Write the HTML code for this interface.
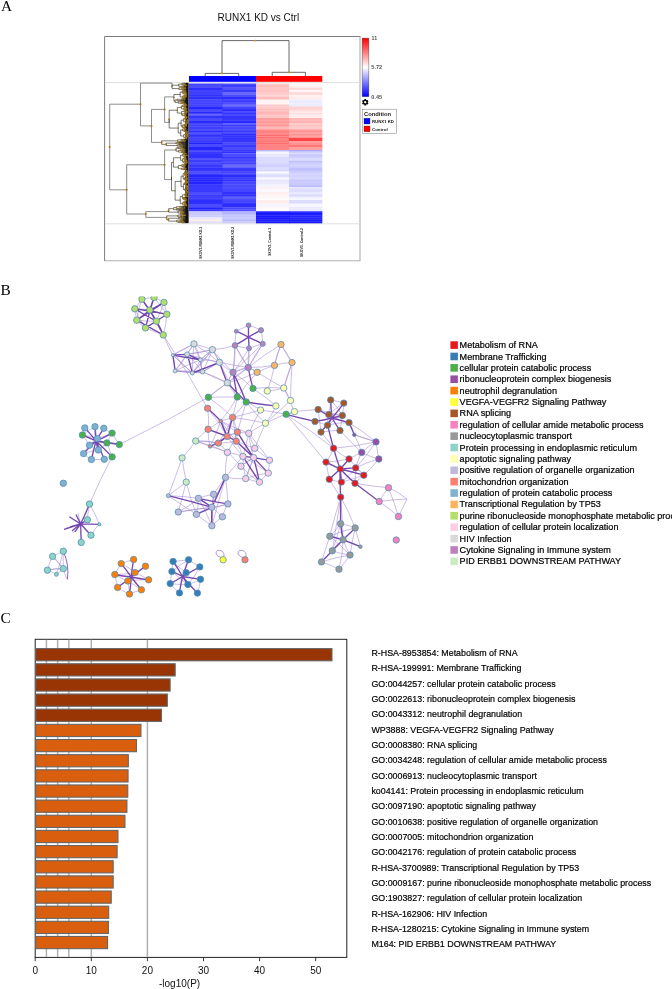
<!DOCTYPE html>
<html><head><meta charset="utf-8"><title>RUNX1 KD vs Ctrl</title>
<style>html,body{margin:0;padding:0;background:#fff;width:672px;height:989px;overflow:hidden}svg{display:block}</style>
</head><body>
<svg width="672" height="989" viewBox="0 0 672 989"><text x="0.9" y="10.6" font-family="Liberation Serif, Times New Roman, serif" font-size="15.3">A</text>
<text x="0.6" y="294.6" font-family="Liberation Serif, Times New Roman, serif" font-size="15.3">B</text>
<text x="0.6" y="622.9" font-family="Liberation Serif, Times New Roman, serif" font-size="15.3">C</text>
<text x="217.5" y="21" font-family="Liberation Sans, Arial, sans-serif" font-size="10" fill="#111">RUNX1 KD vs Ctrl</text>
<path d="M104.6,261 V36.5 H360.5" fill="none" stroke="#7d7d7d" stroke-width="1"/>
<path d="M104.6,260.8 H360 V36.5" fill="none" stroke="#b0b0b0" stroke-width="1.1"/>
<line x1="105" y1="82.5" x2="360" y2="82.5" stroke="#d8d8d8" stroke-width="0.8"/>
<line x1="105" y1="223.8" x2="360" y2="223.8" stroke="#d8d8d8" stroke-width="0.8"/>
<path d="M222,73.4 V40.6 H289 V72.3 M205.2,76 V73.4 H238.7 V76 M272.2,76 V72.3 H305.4 V76" fill="none" stroke="#3a3a3a" stroke-width="0.75"/>
<circle cx="255.5" cy="40.6" r="0.9" fill="#d49a00"/>
<circle cx="222" cy="73.4" r="0.9" fill="#d49a00"/>
<circle cx="289" cy="72.3" r="0.9" fill="#d49a00"/>
<rect x="189" y="76" width="67" height="5.8" fill="#0000ff"/>
<rect x="256" y="76" width="66.3" height="5.8" fill="#ff0000"/>
<rect x="189" y="83.50" width="34.00" height="1.80" fill="#4242ff"/>
<rect x="189" y="85.00" width="34.00" height="2.80" fill="#4b4bff"/>
<rect x="189" y="87.50" width="34.00" height="2.80" fill="#2e2eff"/>
<rect x="189" y="90.00" width="34.00" height="2.30" fill="#4242ff"/>
<rect x="189" y="92.00" width="34.00" height="3.30" fill="#4040ff"/>
<rect x="189" y="95.00" width="34.00" height="1.80" fill="#3232ff"/>
<rect x="189" y="96.50" width="34.00" height="3.30" fill="#3131ff"/>
<rect x="189" y="99.50" width="34.00" height="1.80" fill="#4646ff"/>
<rect x="189" y="101.00" width="34.00" height="1.80" fill="#4646ff"/>
<rect x="189" y="102.50" width="34.00" height="1.30" fill="#2f2fff"/>
<rect x="189" y="103.50" width="34.00" height="1.30" fill="#3030ff"/>
<rect x="189" y="104.50" width="34.00" height="2.30" fill="#4444ff"/>
<rect x="189" y="106.50" width="34.00" height="2.80" fill="#2626ff"/>
<rect x="189" y="109.00" width="34.00" height="1.30" fill="#4444ff"/>
<rect x="189" y="110.00" width="34.00" height="1.80" fill="#4a4aff"/>
<rect x="189" y="111.50" width="34.00" height="1.80" fill="#2929ff"/>
<rect x="189" y="113.00" width="34.00" height="1.80" fill="#4646ff"/>
<rect x="189" y="114.50" width="34.00" height="1.30" fill="#6161ff"/>
<rect x="189" y="115.50" width="34.00" height="2.80" fill="#3333ff"/>
<rect x="189" y="118.00" width="34.00" height="2.80" fill="#4949ff"/>
<rect x="189" y="120.50" width="34.00" height="3.30" fill="#2b2bff"/>
<rect x="189" y="123.50" width="34.00" height="1.30" fill="#3939ff"/>
<rect x="189" y="124.50" width="34.00" height="2.30" fill="#4141ff"/>
<rect x="189" y="126.50" width="34.00" height="3.30" fill="#3f3fff"/>
<rect x="189" y="129.50" width="34.00" height="1.30" fill="#3d3dff"/>
<rect x="189" y="130.50" width="34.00" height="2.30" fill="#2e2eff"/>
<rect x="189" y="132.50" width="34.00" height="1.30" fill="#4040ff"/>
<rect x="189" y="133.50" width="34.00" height="1.80" fill="#4444ff"/>
<rect x="189" y="135.00" width="34.00" height="1.30" fill="#3333ff"/>
<rect x="189" y="136.00" width="34.00" height="1.30" fill="#3a3aff"/>
<rect x="189" y="137.00" width="34.00" height="1.30" fill="#4b4bff"/>
<rect x="189" y="138.00" width="34.00" height="3.30" fill="#4242ff"/>
<rect x="189" y="141.00" width="34.00" height="1.80" fill="#3939ff"/>
<rect x="189" y="142.50" width="34.00" height="2.30" fill="#2424ff"/>
<rect x="189" y="144.50" width="34.00" height="2.80" fill="#4949ff"/>
<rect x="189" y="147.00" width="34.00" height="3.30" fill="#2626ff"/>
<rect x="189" y="150.00" width="34.00" height="1.80" fill="#4545ff"/>
<rect x="189" y="151.50" width="34.00" height="1.80" fill="#3b3bff"/>
<rect x="189" y="153.00" width="34.00" height="1.30" fill="#3939ff"/>
<rect x="189" y="154.00" width="34.00" height="3.30" fill="#3131ff"/>
<rect x="189" y="157.00" width="34.00" height="1.80" fill="#3030ff"/>
<rect x="189" y="158.50" width="34.00" height="1.30" fill="#4c4cff"/>
<rect x="189" y="159.50" width="34.00" height="1.80" fill="#3d3dff"/>
<rect x="189" y="161.00" width="34.00" height="1.80" fill="#3c3cff"/>
<rect x="189" y="162.50" width="34.00" height="1.30" fill="#4444ff"/>
<rect x="189" y="163.50" width="34.00" height="1.30" fill="#2e2eff"/>
<rect x="189" y="164.50" width="34.00" height="3.30" fill="#3838ff"/>
<rect x="189" y="167.50" width="34.00" height="2.80" fill="#3232ff"/>
<rect x="189" y="170.00" width="34.00" height="1.80" fill="#3939ff"/>
<rect x="189" y="171.50" width="34.00" height="2.30" fill="#4b4bff"/>
<rect x="189" y="173.50" width="34.00" height="1.80" fill="#3b3bff"/>
<rect x="189" y="175.00" width="34.00" height="2.80" fill="#2525ff"/>
<rect x="189" y="177.50" width="34.00" height="2.30" fill="#2929ff"/>
<rect x="189" y="179.50" width="34.00" height="2.30" fill="#2424ff"/>
<rect x="189" y="181.50" width="34.00" height="3.30" fill="#2424ff"/>
<rect x="189" y="184.50" width="34.00" height="2.80" fill="#3838ff"/>
<rect x="189" y="187.00" width="34.00" height="2.30" fill="#3939ff"/>
<rect x="189" y="189.00" width="34.00" height="3.30" fill="#3a3aff"/>
<rect x="189" y="192.00" width="34.00" height="2.80" fill="#4b4bff"/>
<rect x="189" y="194.50" width="34.00" height="2.30" fill="#3838ff"/>
<rect x="189" y="196.50" width="34.00" height="1.30" fill="#2727ff"/>
<rect x="189" y="197.50" width="34.00" height="1.30" fill="#2f2fff"/>
<rect x="189" y="198.50" width="34.00" height="1.80" fill="#3939ff"/>
<rect x="189" y="200.00" width="34.00" height="3.30" fill="#2e2eff"/>
<rect x="189" y="203.00" width="34.00" height="1.30" fill="#3333ff"/>
<rect x="189" y="204.00" width="34.00" height="3.30" fill="#4b4bff"/>
<rect x="189" y="207.00" width="34.00" height="1.30" fill="#4040ff"/>
<rect x="189" y="208.00" width="34.00" height="1.80" fill="#2323ff"/>
<rect x="189" y="209.50" width="34.00" height="2.10" fill="#3a3aff"/>
<rect x="189" y="211.30" width="34.00" height="1.30" fill="#ceceff"/>
<rect x="189" y="212.30" width="34.00" height="1.80" fill="#c5c5ff"/>
<rect x="189" y="213.80" width="34.00" height="1.80" fill="#cacaff"/>
<rect x="189" y="215.30" width="34.00" height="2.30" fill="#ccccff"/>
<rect x="189" y="217.30" width="34.00" height="2.30" fill="#eaeaff"/>
<rect x="189" y="219.30" width="34.00" height="2.30" fill="#ffeaea"/>
<rect x="189" y="221.30" width="34.00" height="2.00" fill="#e1e1ff"/>
<rect x="222.4" y="83.50" width="34.20" height="1.80" fill="#4a4aff"/>
<rect x="222.4" y="85.00" width="34.20" height="2.80" fill="#3c3cff"/>
<rect x="222.4" y="87.50" width="34.20" height="2.80" fill="#5151ff"/>
<rect x="222.4" y="90.00" width="34.20" height="2.30" fill="#3a3aff"/>
<rect x="222.4" y="92.00" width="34.20" height="3.30" fill="#6969ff"/>
<rect x="222.4" y="95.00" width="34.20" height="1.80" fill="#4b4bff"/>
<rect x="222.4" y="96.50" width="34.20" height="3.30" fill="#2c2cff"/>
<rect x="222.4" y="99.50" width="34.20" height="1.80" fill="#4242ff"/>
<rect x="222.4" y="101.00" width="34.20" height="1.80" fill="#3939ff"/>
<rect x="222.4" y="102.50" width="34.20" height="1.30" fill="#4646ff"/>
<rect x="222.4" y="103.50" width="34.20" height="1.30" fill="#3232ff"/>
<rect x="222.4" y="104.50" width="34.20" height="2.30" fill="#6d6dff"/>
<rect x="222.4" y="106.50" width="34.20" height="2.80" fill="#4141ff"/>
<rect x="222.4" y="109.00" width="34.20" height="1.30" fill="#3333ff"/>
<rect x="222.4" y="110.00" width="34.20" height="1.80" fill="#2b2bff"/>
<rect x="222.4" y="111.50" width="34.20" height="1.80" fill="#4848ff"/>
<rect x="222.4" y="113.00" width="34.20" height="1.80" fill="#3333ff"/>
<rect x="222.4" y="114.50" width="34.20" height="1.30" fill="#3b3bff"/>
<rect x="222.4" y="115.50" width="34.20" height="2.80" fill="#3232ff"/>
<rect x="222.4" y="118.00" width="34.20" height="2.80" fill="#3636ff"/>
<rect x="222.4" y="120.50" width="34.20" height="3.30" fill="#2929ff"/>
<rect x="222.4" y="123.50" width="34.20" height="1.30" fill="#6f6fff"/>
<rect x="222.4" y="124.50" width="34.20" height="2.30" fill="#3939ff"/>
<rect x="222.4" y="126.50" width="34.20" height="3.30" fill="#4848ff"/>
<rect x="222.4" y="129.50" width="34.20" height="1.30" fill="#3838ff"/>
<rect x="222.4" y="130.50" width="34.20" height="2.30" fill="#3838ff"/>
<rect x="222.4" y="132.50" width="34.20" height="1.30" fill="#4242ff"/>
<rect x="222.4" y="133.50" width="34.20" height="1.80" fill="#2d2dff"/>
<rect x="222.4" y="135.00" width="34.20" height="1.30" fill="#4242ff"/>
<rect x="222.4" y="136.00" width="34.20" height="1.30" fill="#3535ff"/>
<rect x="222.4" y="137.00" width="34.20" height="1.30" fill="#3c3cff"/>
<rect x="222.4" y="138.00" width="34.20" height="3.30" fill="#3535ff"/>
<rect x="222.4" y="141.00" width="34.20" height="1.80" fill="#3636ff"/>
<rect x="222.4" y="142.50" width="34.20" height="2.30" fill="#4848ff"/>
<rect x="222.4" y="144.50" width="34.20" height="2.80" fill="#3939ff"/>
<rect x="222.4" y="147.00" width="34.20" height="3.30" fill="#4b4bff"/>
<rect x="222.4" y="150.00" width="34.20" height="1.80" fill="#3a3aff"/>
<rect x="222.4" y="151.50" width="34.20" height="1.80" fill="#2d2dff"/>
<rect x="222.4" y="153.00" width="34.20" height="1.30" fill="#6565ff"/>
<rect x="222.4" y="154.00" width="34.20" height="3.30" fill="#4b4bff"/>
<rect x="222.4" y="157.00" width="34.20" height="1.80" fill="#3636ff"/>
<rect x="222.4" y="158.50" width="34.20" height="1.30" fill="#3030ff"/>
<rect x="222.4" y="159.50" width="34.20" height="1.80" fill="#4343ff"/>
<rect x="222.4" y="161.00" width="34.20" height="1.80" fill="#5050ff"/>
<rect x="222.4" y="162.50" width="34.20" height="1.30" fill="#2a2aff"/>
<rect x="222.4" y="163.50" width="34.20" height="1.30" fill="#3838ff"/>
<rect x="222.4" y="164.50" width="34.20" height="3.30" fill="#6969ff"/>
<rect x="222.4" y="167.50" width="34.20" height="2.80" fill="#3838ff"/>
<rect x="222.4" y="170.00" width="34.20" height="1.80" fill="#3535ff"/>
<rect x="222.4" y="171.50" width="34.20" height="2.30" fill="#4242ff"/>
<rect x="222.4" y="173.50" width="34.20" height="1.80" fill="#4848ff"/>
<rect x="222.4" y="175.00" width="34.20" height="2.80" fill="#2c2cff"/>
<rect x="222.4" y="177.50" width="34.20" height="2.30" fill="#3a3aff"/>
<rect x="222.4" y="179.50" width="34.20" height="2.30" fill="#3333ff"/>
<rect x="222.4" y="181.50" width="34.20" height="3.30" fill="#4545ff"/>
<rect x="222.4" y="184.50" width="34.20" height="2.80" fill="#4949ff"/>
<rect x="222.4" y="187.00" width="34.20" height="2.30" fill="#4f4fff"/>
<rect x="222.4" y="189.00" width="34.20" height="3.30" fill="#4545ff"/>
<rect x="222.4" y="192.00" width="34.20" height="2.80" fill="#3131ff"/>
<rect x="222.4" y="194.50" width="34.20" height="2.30" fill="#2e2eff"/>
<rect x="222.4" y="196.50" width="34.20" height="1.30" fill="#4c4cff"/>
<rect x="222.4" y="197.50" width="34.20" height="1.30" fill="#4e4eff"/>
<rect x="222.4" y="198.50" width="34.20" height="1.80" fill="#4c4cff"/>
<rect x="222.4" y="200.00" width="34.20" height="3.30" fill="#4747ff"/>
<rect x="222.4" y="203.00" width="34.20" height="1.30" fill="#3737ff"/>
<rect x="222.4" y="204.00" width="34.20" height="3.30" fill="#2c2cff"/>
<rect x="222.4" y="207.00" width="34.20" height="1.30" fill="#5c5cff"/>
<rect x="222.4" y="208.00" width="34.20" height="1.80" fill="#4848ff"/>
<rect x="222.4" y="209.50" width="34.20" height="2.10" fill="#5050ff"/>
<rect x="222.4" y="211.30" width="34.20" height="1.30" fill="#b3b3ff"/>
<rect x="222.4" y="212.30" width="34.20" height="1.80" fill="#acacff"/>
<rect x="222.4" y="213.80" width="34.20" height="1.80" fill="#c3c3ff"/>
<rect x="222.4" y="215.30" width="34.20" height="2.30" fill="#c4c4ff"/>
<rect x="222.4" y="217.30" width="34.20" height="2.30" fill="#cacaff"/>
<rect x="222.4" y="219.30" width="34.20" height="2.30" fill="#b7b7ff"/>
<rect x="222.4" y="221.30" width="34.20" height="2.00" fill="#d0d0ff"/>
<rect x="256" y="83.50" width="33.60" height="1.80" fill="#ffcbcb"/>
<rect x="256" y="85.00" width="33.60" height="2.80" fill="#ffbcbc"/>
<rect x="256" y="87.50" width="33.60" height="2.80" fill="#ffc4c4"/>
<rect x="256" y="90.00" width="33.60" height="2.30" fill="#ffc2c2"/>
<rect x="256" y="92.00" width="33.60" height="3.30" fill="#ffcccc"/>
<rect x="256" y="95.00" width="33.60" height="1.80" fill="#ffd7d7"/>
<rect x="256" y="96.50" width="33.60" height="3.30" fill="#ffbdbd"/>
<rect x="256" y="99.50" width="33.60" height="1.80" fill="#ffeeee"/>
<rect x="256" y="101.00" width="33.60" height="1.80" fill="#fff6f6"/>
<rect x="256" y="102.50" width="33.60" height="1.30" fill="#ffeded"/>
<rect x="256" y="103.50" width="33.60" height="1.30" fill="#fffafa"/>
<rect x="256" y="104.50" width="33.60" height="2.30" fill="#ffc7c7"/>
<rect x="256" y="106.50" width="33.60" height="2.80" fill="#ffcaca"/>
<rect x="256" y="109.00" width="33.60" height="1.30" fill="#ffbfbf"/>
<rect x="256" y="110.00" width="33.60" height="1.80" fill="#ffc2c2"/>
<rect x="256" y="111.50" width="33.60" height="1.80" fill="#ffb6b6"/>
<rect x="256" y="113.00" width="33.60" height="1.80" fill="#ffb4b4"/>
<rect x="256" y="114.50" width="33.60" height="1.30" fill="#ffbebe"/>
<rect x="256" y="115.50" width="33.60" height="2.80" fill="#ffc5c5"/>
<rect x="256" y="118.00" width="33.60" height="2.80" fill="#ff9d9d"/>
<rect x="256" y="120.50" width="33.60" height="3.30" fill="#ff9b9b"/>
<rect x="256" y="123.50" width="33.60" height="1.30" fill="#ff9c9c"/>
<rect x="256" y="124.50" width="33.60" height="2.30" fill="#ff9797"/>
<rect x="256" y="126.50" width="33.60" height="3.30" fill="#ffb6b6"/>
<rect x="256" y="129.50" width="33.60" height="1.30" fill="#ff7a7a"/>
<rect x="256" y="130.50" width="33.60" height="2.30" fill="#ff8080"/>
<rect x="256" y="132.50" width="33.60" height="1.30" fill="#ff6e6e"/>
<rect x="256" y="133.50" width="33.60" height="1.80" fill="#ff8c8c"/>
<rect x="256" y="135.00" width="33.60" height="1.30" fill="#ff6b6b"/>
<rect x="256" y="136.00" width="33.60" height="1.30" fill="#ff8c8c"/>
<rect x="256" y="137.00" width="33.60" height="1.30" fill="#ff6f6f"/>
<rect x="256" y="138.00" width="33.60" height="3.30" fill="#ff8383"/>
<rect x="256" y="141.00" width="33.60" height="1.80" fill="#ff7a7a"/>
<rect x="256" y="142.50" width="33.60" height="2.30" fill="#ff7070"/>
<rect x="256" y="144.50" width="33.60" height="2.80" fill="#ff8181"/>
<rect x="256" y="147.00" width="33.60" height="3.30" fill="#ff8484"/>
<rect x="256" y="150.00" width="33.60" height="1.80" fill="#b9b9ff"/>
<rect x="256" y="151.50" width="33.60" height="1.80" fill="#f4f4ff"/>
<rect x="256" y="153.00" width="33.60" height="1.30" fill="#f4f4ff"/>
<rect x="256" y="154.00" width="33.60" height="3.30" fill="#e7e7ff"/>
<rect x="256" y="157.00" width="33.60" height="1.80" fill="#dbdbff"/>
<rect x="256" y="158.50" width="33.60" height="1.30" fill="#d3d3ff"/>
<rect x="256" y="159.50" width="33.60" height="1.80" fill="#dbdbff"/>
<rect x="256" y="161.00" width="33.60" height="1.80" fill="#dadaff"/>
<rect x="256" y="162.50" width="33.60" height="1.30" fill="#d8d8ff"/>
<rect x="256" y="163.50" width="33.60" height="1.30" fill="#cfcfff"/>
<rect x="256" y="164.50" width="33.60" height="3.30" fill="#d1d1ff"/>
<rect x="256" y="167.50" width="33.60" height="2.80" fill="#dcdcff"/>
<rect x="256" y="170.00" width="33.60" height="1.80" fill="#d6d6ff"/>
<rect x="256" y="171.50" width="33.60" height="2.30" fill="#fbfbff"/>
<rect x="256" y="173.50" width="33.60" height="1.80" fill="#e3e3ff"/>
<rect x="256" y="175.00" width="33.60" height="2.80" fill="#dedeff"/>
<rect x="256" y="177.50" width="33.60" height="2.30" fill="#fafaff"/>
<rect x="256" y="179.50" width="33.60" height="2.30" fill="#e6e6ff"/>
<rect x="256" y="181.50" width="33.60" height="3.30" fill="#eaeaff"/>
<rect x="256" y="184.50" width="33.60" height="2.80" fill="#f4f4ff"/>
<rect x="256" y="187.00" width="33.60" height="2.30" fill="#fff1f1"/>
<rect x="256" y="189.00" width="33.60" height="3.30" fill="#f9f9ff"/>
<rect x="256" y="192.00" width="33.60" height="2.80" fill="#ffefef"/>
<rect x="256" y="194.50" width="33.60" height="2.30" fill="#fff4f4"/>
<rect x="256" y="196.50" width="33.60" height="1.30" fill="#fff7f7"/>
<rect x="256" y="197.50" width="33.60" height="1.30" fill="#fff5f5"/>
<rect x="256" y="198.50" width="33.60" height="1.80" fill="#fefeff"/>
<rect x="256" y="200.00" width="33.60" height="3.30" fill="#ffecec"/>
<rect x="256" y="203.00" width="33.60" height="1.30" fill="#fff1f1"/>
<rect x="256" y="204.00" width="33.60" height="3.30" fill="#f5f5ff"/>
<rect x="256" y="207.00" width="33.60" height="1.30" fill="#fff6f6"/>
<rect x="256" y="208.00" width="33.60" height="1.80" fill="#fff8f8"/>
<rect x="256" y="209.50" width="33.60" height="2.10" fill="#fffcfc"/>
<rect x="256" y="211.30" width="33.60" height="1.30" fill="#1515ff"/>
<rect x="256" y="212.30" width="33.60" height="1.80" fill="#0e0eff"/>
<rect x="256" y="213.80" width="33.60" height="1.80" fill="#1e1eff"/>
<rect x="256" y="215.30" width="33.60" height="2.30" fill="#1515ff"/>
<rect x="256" y="217.30" width="33.60" height="2.30" fill="#1313ff"/>
<rect x="256" y="219.30" width="33.60" height="2.30" fill="#1c1cff"/>
<rect x="256" y="221.30" width="33.60" height="2.00" fill="#1a1aff"/>
<rect x="289" y="83.50" width="33.30" height="1.80" fill="#fff4f4"/>
<rect x="289" y="85.00" width="33.30" height="2.80" fill="#fff4f4"/>
<rect x="289" y="87.50" width="33.30" height="2.80" fill="#ffd8d8"/>
<rect x="289" y="90.00" width="33.30" height="2.30" fill="#fff7f7"/>
<rect x="289" y="92.00" width="33.30" height="3.30" fill="#ffdada"/>
<rect x="289" y="95.00" width="33.30" height="1.80" fill="#fff4f4"/>
<rect x="289" y="96.50" width="33.30" height="3.30" fill="#ffecec"/>
<rect x="289" y="99.50" width="33.30" height="1.80" fill="#efefff"/>
<rect x="289" y="101.00" width="33.30" height="1.80" fill="#e9e9ff"/>
<rect x="289" y="102.50" width="33.30" height="1.30" fill="#eeeeff"/>
<rect x="289" y="103.50" width="33.30" height="1.30" fill="#eeeeff"/>
<rect x="289" y="104.50" width="33.30" height="2.30" fill="#ececff"/>
<rect x="289" y="106.50" width="33.30" height="2.80" fill="#ffd1d1"/>
<rect x="289" y="109.00" width="33.30" height="1.30" fill="#ffd6d6"/>
<rect x="289" y="110.00" width="33.30" height="1.80" fill="#ffdddd"/>
<rect x="289" y="111.50" width="33.30" height="1.80" fill="#ffeaea"/>
<rect x="289" y="113.00" width="33.30" height="1.80" fill="#ffe0e0"/>
<rect x="289" y="114.50" width="33.30" height="1.30" fill="#ffe8e8"/>
<rect x="289" y="115.50" width="33.30" height="2.80" fill="#ffecec"/>
<rect x="289" y="118.00" width="33.30" height="2.80" fill="#ffb7b7"/>
<rect x="289" y="120.50" width="33.30" height="3.30" fill="#ffb4b4"/>
<rect x="289" y="123.50" width="33.30" height="1.30" fill="#ffcfcf"/>
<rect x="289" y="124.50" width="33.30" height="2.30" fill="#ffc0c0"/>
<rect x="289" y="126.50" width="33.30" height="3.30" fill="#ffcaca"/>
<rect x="289" y="129.50" width="33.30" height="1.30" fill="#ff8f8f"/>
<rect x="289" y="130.50" width="33.30" height="2.30" fill="#ff9393"/>
<rect x="289" y="132.50" width="33.30" height="1.30" fill="#ffa1a1"/>
<rect x="289" y="133.50" width="33.30" height="1.80" fill="#ff9292"/>
<rect x="289" y="135.00" width="33.30" height="1.30" fill="#ffa1a1"/>
<rect x="289" y="136.00" width="33.30" height="1.30" fill="#ffa4a4"/>
<rect x="289" y="137.00" width="33.30" height="1.30" fill="#ff9393"/>
<rect x="289" y="138.00" width="33.30" height="3.30" fill="#ff4242"/>
<rect x="289" y="141.00" width="33.30" height="1.80" fill="#ff9c9c"/>
<rect x="289" y="142.50" width="33.30" height="2.30" fill="#ff9191"/>
<rect x="289" y="144.50" width="33.30" height="2.80" fill="#ff7878"/>
<rect x="289" y="147.00" width="33.30" height="3.30" fill="#ffa0a0"/>
<rect x="289" y="150.00" width="33.30" height="1.80" fill="#a9a9ff"/>
<rect x="289" y="151.50" width="33.30" height="1.80" fill="#cfcfff"/>
<rect x="289" y="153.00" width="33.30" height="1.30" fill="#dfdfff"/>
<rect x="289" y="154.00" width="33.30" height="3.30" fill="#cbcbff"/>
<rect x="289" y="157.00" width="33.30" height="1.80" fill="#d1d1ff"/>
<rect x="289" y="158.50" width="33.30" height="1.30" fill="#d9d9ff"/>
<rect x="289" y="159.50" width="33.30" height="1.80" fill="#d7d7ff"/>
<rect x="289" y="161.00" width="33.30" height="1.80" fill="#bfbfff"/>
<rect x="289" y="162.50" width="33.30" height="1.30" fill="#ccccff"/>
<rect x="289" y="163.50" width="33.30" height="1.30" fill="#c6c6ff"/>
<rect x="289" y="164.50" width="33.30" height="3.30" fill="#d3d3ff"/>
<rect x="289" y="167.50" width="33.30" height="2.80" fill="#c0c0ff"/>
<rect x="289" y="170.00" width="33.30" height="1.80" fill="#c2c2ff"/>
<rect x="289" y="171.50" width="33.30" height="2.30" fill="#ccccff"/>
<rect x="289" y="173.50" width="33.30" height="1.80" fill="#d6d6ff"/>
<rect x="289" y="175.00" width="33.30" height="2.80" fill="#d3d3ff"/>
<rect x="289" y="177.50" width="33.30" height="2.30" fill="#d6d6ff"/>
<rect x="289" y="179.50" width="33.30" height="2.30" fill="#c6c6ff"/>
<rect x="289" y="181.50" width="33.30" height="3.30" fill="#cacaff"/>
<rect x="289" y="184.50" width="33.30" height="2.80" fill="#c0c0ff"/>
<rect x="289" y="187.00" width="33.30" height="2.30" fill="#e4e4ff"/>
<rect x="289" y="189.00" width="33.30" height="3.30" fill="#ddddff"/>
<rect x="289" y="192.00" width="33.30" height="2.80" fill="#e9e9ff"/>
<rect x="289" y="194.50" width="33.30" height="2.30" fill="#d9d9ff"/>
<rect x="289" y="196.50" width="33.30" height="1.30" fill="#e8e8ff"/>
<rect x="289" y="197.50" width="33.30" height="1.30" fill="#f2f2ff"/>
<rect x="289" y="198.50" width="33.30" height="1.80" fill="#f7f7ff"/>
<rect x="289" y="200.00" width="33.30" height="3.30" fill="#dcdcff"/>
<rect x="289" y="203.00" width="33.30" height="1.30" fill="#eaeaff"/>
<rect x="289" y="204.00" width="33.30" height="3.30" fill="#f6f6ff"/>
<rect x="289" y="207.00" width="33.30" height="1.30" fill="#eaeaff"/>
<rect x="289" y="208.00" width="33.30" height="1.80" fill="#ececff"/>
<rect x="289" y="209.50" width="33.30" height="2.10" fill="#e8e8ff"/>
<rect x="289" y="211.30" width="33.30" height="1.30" fill="#2121ff"/>
<rect x="289" y="212.30" width="33.30" height="1.80" fill="#1313ff"/>
<rect x="289" y="213.80" width="33.30" height="1.80" fill="#2020ff"/>
<rect x="289" y="215.30" width="33.30" height="2.30" fill="#2222ff"/>
<rect x="289" y="217.30" width="33.30" height="2.30" fill="#2222ff"/>
<rect x="289" y="219.30" width="33.30" height="2.30" fill="#1717ff"/>
<rect x="289" y="221.30" width="33.30" height="2.00" fill="#1a1aff"/>
<defs><linearGradient id="cb" x1="0" y1="0" x2="0" y2="1"><stop offset="0" stop-color="#ff0000"/><stop offset="0.5" stop-color="#ffffff"/><stop offset="1" stop-color="#0000ff"/></linearGradient></defs>
<rect x="362.2" y="38.2" width="6.6" height="58.4" fill="url(#cb)" stroke="#000" stroke-opacity="0.45" stroke-width="0.7"/>
<text x="371.6" y="39.9" font-family="Liberation Sans, Arial, sans-serif" font-size="5.3" font-weight="bold" fill="#555">11</text>
<text x="371.3" y="68.9" font-family="Liberation Sans, Arial, sans-serif" font-size="5.3" font-weight="bold" fill="#555" textLength="10.8" lengthAdjust="spacingAndGlyphs">5.72</text>
<text x="371.3" y="98.7" font-family="Liberation Sans, Arial, sans-serif" font-size="5.3" font-weight="bold" fill="#555" textLength="10.8" lengthAdjust="spacingAndGlyphs">0.45</text>
<g fill="#000"><rect x="364.40" y="99.00" width="1.7" height="1.8" transform="rotate(0 365.25 102.25)"/><rect x="364.40" y="99.00" width="1.7" height="1.8" transform="rotate(60 365.25 102.25)"/><rect x="364.40" y="99.00" width="1.7" height="1.8" transform="rotate(120 365.25 102.25)"/><rect x="364.40" y="99.00" width="1.7" height="1.8" transform="rotate(180 365.25 102.25)"/><rect x="364.40" y="99.00" width="1.7" height="1.8" transform="rotate(240 365.25 102.25)"/><rect x="364.40" y="99.00" width="1.7" height="1.8" transform="rotate(300 365.25 102.25)"/></g>
<circle cx="365.25" cy="102.25" r="1.85" fill="none" stroke="#000" stroke-width="1.3"/>
<rect x="362.3" y="109.2" width="34.4" height="24.4" fill="#fff" stroke="#777" stroke-width="0.5"/>
<text x="364" y="115.9" font-family="Liberation Sans, Arial, sans-serif" font-size="5.8" font-weight="bold" fill="#222">Condition</text>
<rect x="364" y="118.2" width="6" height="5.8" fill="#0000ff" stroke="#333" stroke-width="0.3"/>
<rect x="364" y="126" width="6" height="5.8" fill="#ff0000" stroke="#333" stroke-width="0.3"/>
<text x="372" y="122.9" font-family="Liberation Sans, Arial, sans-serif" font-size="4.3" font-weight="bold" fill="#222">RUNX1 KD</text>
<text x="372" y="130.7" font-family="Liberation Sans, Arial, sans-serif" font-size="4.4" font-weight="bold" fill="#222">Control</text>
<text x="201.9" y="258.8" font-family="Liberation Sans, Arial, sans-serif" font-size="4.1" font-weight="bold" fill="#222" textLength="32" lengthAdjust="spacingAndGlyphs" transform="rotate(-90 201.9 258.8)">SKOV3-RUNX1 KD-1</text>
<text x="234.0" y="258.8" font-family="Liberation Sans, Arial, sans-serif" font-size="4.1" font-weight="bold" fill="#222" textLength="32" lengthAdjust="spacingAndGlyphs" transform="rotate(-90 234.0 258.8)">SKOV3-RUNX1 KD-2</text>
<text x="271.1" y="255.8" font-family="Liberation Sans, Arial, sans-serif" font-size="4.1" font-weight="bold" fill="#222" textLength="27.8" lengthAdjust="spacingAndGlyphs" transform="rotate(-90 271.1 255.8)">SKOV3- Control-1</text>
<text x="303.4" y="257" font-family="Liberation Sans, Arial, sans-serif" font-size="4.1" font-weight="bold" fill="#222" textLength="29" lengthAdjust="spacingAndGlyphs" transform="rotate(-90 303.4 257)">SKOV3- Control-2</text>
<path d="M164.60,96.90L164.60,122.40M164.60,96.90L173.90,96.90M164.60,122.40L169.20,122.40M151.50,109.40L151.50,142.40M151.50,109.40L164.60,109.40M151.50,142.40L161.60,142.40M140.50,83.10L140.50,125.90M140.50,83.10L172.00,83.10M140.50,125.90L151.50,125.90M164.60,150.00L164.60,179.60M164.60,150.00L176.00,150.00M164.60,179.60L171.50,179.60M145.80,211.60L145.80,217.40M145.80,211.60L168.60,211.60M145.80,217.40L166.60,217.40M126.70,164.80L126.70,214.00M126.70,164.80L164.60,164.80M126.70,214.00L145.80,214.00M109.70,104.20L109.70,189.80M109.70,104.20L140.50,104.20M109.70,189.80L126.70,189.80" fill="none" stroke="#7a7a7a" stroke-width="0.85"/>
<path d="M185.26,83.23L188.30,83.23M184.19,83.63L188.30,83.63M183.45,83.23L185.26,83.23M183.45,83.63L184.19,83.63M183.45,83.23L183.45,83.63M185.47,84.04L188.30,84.04M185.65,84.48L188.30,84.48M185.07,84.04L185.47,84.04M185.07,84.48L185.65,84.48M185.07,84.04L185.07,84.48M186.49,84.87L188.30,84.87M187.03,85.16L188.30,85.16M186.68,85.43L188.30,85.43M186.37,85.16L187.03,85.16M186.37,85.43L186.68,85.43M186.37,85.16L186.37,85.43M185.40,84.87L186.49,84.87M185.40,85.30L186.37,85.30M185.40,84.87L185.40,85.30M184.32,84.26L185.07,84.26M184.32,85.08L185.40,85.08M184.32,84.26L184.32,85.08M181.83,83.43L183.45,83.43M181.83,84.67L184.32,84.67M181.83,83.43L181.83,84.67M184.15,85.82L188.30,85.82M184.16,86.16L188.30,86.16M183.25,85.82L184.15,85.82M183.25,86.16L184.16,86.16M183.25,85.82L183.25,86.16M184.96,86.48L188.30,86.48M184.10,86.76L188.30,86.76M183.04,86.48L184.96,86.48M183.04,86.76L184.10,86.76M183.04,86.48L183.04,86.76M182.32,85.99L183.25,85.99M182.32,86.62L183.04,86.62M182.32,85.99L182.32,86.62M178.69,84.05L181.83,84.05M178.69,86.30L182.32,86.30M178.69,84.05L178.69,86.30M186.08,86.97L188.30,86.97M186.07,87.25L188.30,87.25M185.64,86.97L186.08,86.97M185.64,87.25L186.07,87.25M185.64,86.97L185.64,87.25M184.94,87.54L188.30,87.54M184.08,87.11L185.64,87.11M184.08,87.54L184.94,87.54M184.08,87.11L184.08,87.54M184.56,87.89L188.30,87.89M185.99,88.24L188.30,88.24M186.59,88.51L188.30,88.51M186.34,88.82L188.30,88.82M185.67,88.51L186.59,88.51M185.67,88.82L186.34,88.82M185.67,88.51L185.67,88.82M184.95,88.24L185.99,88.24M184.95,88.67L185.67,88.67M184.95,88.24L184.95,88.67M183.59,87.89L184.56,87.89M183.59,88.45L184.95,88.45M183.59,87.89L183.59,88.45M181.45,87.33L184.08,87.33M181.45,88.17L183.59,88.17M181.45,87.33L181.45,88.17M183.46,89.22L188.30,89.22M185.61,89.52L188.30,89.52M184.43,89.81L188.30,89.81M183.87,89.52L185.61,89.52M183.87,89.81L184.43,89.81M183.87,89.52L183.87,89.81M181.81,89.22L183.46,89.22M181.81,89.66L183.87,89.66M181.81,89.22L181.81,89.66M178.90,87.75L181.45,87.75M178.90,89.44L181.81,89.44M178.90,87.75L178.90,89.44M172.00,85.18L178.69,85.18M172.00,88.59L178.90,88.59M172.00,85.18L172.00,88.59M172.00,83.10L172.00,86.89M186.35,90.16L188.30,90.16M186.54,90.52L188.30,90.52M185.64,90.16L186.35,90.16M185.64,90.52L186.54,90.52M185.64,90.16L185.64,90.52M184.92,90.89L188.30,90.89M183.98,90.34L185.64,90.34M183.98,90.89L184.92,90.89M183.98,90.34L183.98,90.89M184.80,91.32L188.30,91.32M183.07,90.62L183.98,90.62M183.07,91.32L184.80,91.32M183.07,90.62L183.07,91.32M186.01,91.70L188.30,91.70M186.68,92.01L188.30,92.01M187.01,92.28L188.30,92.28M186.23,92.01L186.68,92.01M186.23,92.28L187.01,92.28M186.23,92.01L186.23,92.28M185.38,91.70L186.01,91.70M185.38,92.14L186.23,92.14M185.38,91.70L185.38,92.14M186.24,92.58L188.30,92.58M184.95,91.92L185.38,91.92M184.95,92.58L186.24,92.58M184.95,91.92L184.95,92.58M186.07,93.03L188.30,93.03M186.99,93.48L188.30,93.48M186.48,93.86L188.30,93.86M186.12,93.48L186.99,93.48M186.12,93.86L186.48,93.86M186.12,93.48L186.12,93.86M185.70,93.03L186.07,93.03M185.70,93.67L186.12,93.67M185.70,93.03L185.70,93.67M186.73,94.21L188.30,94.21M186.75,94.57L188.30,94.57M186.94,94.96L188.30,94.96M186.40,94.57L186.75,94.57M186.40,94.96L186.94,94.96M186.40,94.57L186.40,94.96M185.70,94.21L186.73,94.21M185.70,94.76L186.40,94.76M185.70,94.21L185.70,94.76M185.01,93.35L185.70,93.35M185.01,94.49L185.70,94.49M185.01,93.35L185.01,94.49M183.30,92.25L184.95,92.25M183.30,93.92L185.01,93.92M183.30,92.25L183.30,93.92M182.27,90.97L183.07,90.97M182.27,93.09L183.30,93.09M182.27,90.97L182.27,93.09M186.53,95.33L188.30,95.33M185.98,95.66L188.30,95.66M185.55,95.33L186.53,95.33M185.55,95.66L185.98,95.66M185.55,95.33L185.55,95.66M187.01,95.91L188.30,95.91M186.70,96.17L188.30,96.17M186.30,95.91L187.01,95.91M186.30,96.17L186.70,96.17M186.30,95.91L186.30,96.17M186.51,96.48L188.30,96.48M185.94,96.04L186.30,96.04M185.94,96.48L186.51,96.48M185.94,96.04L185.94,96.48M186.68,96.78L188.30,96.78M186.57,97.06L188.30,97.06M185.60,96.78L186.68,96.78M185.60,97.06L186.57,97.06M185.60,96.78L185.60,97.06M184.46,96.26L185.94,96.26M184.46,96.92L185.60,96.92M184.46,96.26L184.46,96.92M183.89,95.49L185.55,95.49M183.89,96.59L184.46,96.59M183.89,95.49L183.89,96.59M185.79,97.45L188.30,97.45M185.62,97.86L188.30,97.86M184.94,97.45L185.79,97.45M184.94,97.86L185.62,97.86M184.94,97.45L184.94,97.86M184.98,98.21L188.30,98.21M183.84,97.65L184.94,97.65M183.84,98.21L184.98,98.21M183.84,97.65L183.84,98.21M182.44,96.04L183.89,96.04M182.44,97.93L183.84,97.93M182.44,96.04L182.44,97.93M180.14,92.03L182.27,92.03M180.14,96.99L182.44,96.99M180.14,92.03L180.14,96.99M184.76,98.58L188.30,98.58M186.05,98.88L188.30,98.88M186.04,99.15L188.30,99.15M184.89,98.88L186.05,98.88M184.89,99.15L186.04,99.15M184.89,98.88L184.89,99.15M182.95,98.58L184.76,98.58M182.95,99.02L184.89,99.02M182.95,98.58L182.95,99.02M185.54,99.41L188.30,99.41M185.06,99.67L188.30,99.67M184.26,99.41L185.54,99.41M184.26,99.67L185.06,99.67M184.26,99.41L184.26,99.67M184.41,100.01L188.30,100.01M182.47,99.54L184.26,99.54M182.47,100.01L184.41,100.01M182.47,99.54L182.47,100.01M181.49,98.80L182.95,98.80M181.49,99.77L182.47,99.77M181.49,98.80L181.49,99.77M183.08,100.39L188.30,100.39M182.91,100.78L188.30,100.78M180.45,100.39L183.08,100.39M180.45,100.78L182.91,100.78M180.45,100.39L180.45,100.78M177.15,99.29L181.49,99.29M177.15,100.59L180.45,100.59M177.15,99.29L177.15,100.59M184.46,101.12L188.30,101.12M184.13,101.45L188.30,101.45M182.75,101.12L184.46,101.12M182.75,101.45L184.13,101.45M182.75,101.12L182.75,101.45M185.08,101.84L188.30,101.84M185.28,102.13L188.30,102.13M183.70,101.84L185.08,101.84M183.70,102.13L185.28,102.13M183.70,101.84L183.70,102.13M181.97,101.29L182.75,101.29M181.97,101.99L183.70,101.99M181.97,101.29L181.97,101.99M184.37,102.49L188.30,102.49M185.06,102.87L188.30,102.87M183.27,102.49L184.37,102.49M183.27,102.87L185.06,102.87M183.27,102.49L183.27,102.87M185.86,103.23L188.30,103.23M185.87,103.55L188.30,103.55M184.98,103.23L185.86,103.23M184.98,103.55L185.87,103.55M184.98,103.23L184.98,103.55M185.37,103.83L188.30,103.83M183.46,103.39L184.98,103.39M183.46,103.83L185.37,103.83M183.46,103.39L183.46,103.83M181.12,102.68L183.27,102.68M181.12,103.61L183.46,103.61M181.12,102.68L181.12,103.61M178.01,101.64L181.97,101.64M178.01,103.14L181.12,103.14M178.01,101.64L178.01,103.14M175.01,99.94L177.15,99.94M175.01,102.39L178.01,102.39M175.01,99.94L175.01,102.39M173.90,94.51L180.14,94.51M173.90,101.16L175.01,101.16M173.90,94.51L173.90,101.16M173.90,96.90L173.90,97.84M186.70,104.15L188.30,104.15M186.43,104.47L188.30,104.47M186.01,104.15L186.70,104.15M186.01,104.47L186.43,104.47M186.01,104.15L186.01,104.47M186.11,104.87L188.30,104.87M185.68,104.31L186.01,104.31M185.68,104.87L186.11,104.87M185.68,104.31L185.68,104.87M186.71,105.22L188.30,105.22M186.61,105.47L188.30,105.47M186.35,105.22L186.71,105.22M186.35,105.47L186.61,105.47M186.35,105.22L186.35,105.47M185.89,105.79L188.30,105.79M185.52,105.34L186.35,105.34M185.52,105.79L185.89,105.79M185.52,105.34L185.52,105.79M184.35,104.59L185.68,104.59M184.35,105.57L185.52,105.57M184.35,104.59L184.35,105.57M185.31,106.10L188.30,106.10M185.72,106.41L188.30,106.41M184.86,106.10L185.31,106.10M184.86,106.41L185.72,106.41M184.86,106.10L184.86,106.41M186.70,106.70L188.30,106.70M186.05,106.96L188.30,106.96M185.75,106.70L186.70,106.70M185.75,106.96L186.05,106.96M185.75,106.70L185.75,106.96M186.23,107.25L188.30,107.25M186.33,107.56L188.30,107.56M185.72,107.25L186.23,107.25M185.72,107.56L186.33,107.56M185.72,107.25L185.72,107.56M184.70,106.83L185.75,106.83M184.70,107.41L185.72,107.41M184.70,106.83L184.70,107.41M183.95,106.26L184.86,106.26M183.95,107.12L184.70,107.12M183.95,106.26L183.95,107.12M182.60,105.08L184.35,105.08M182.60,106.69L183.95,106.69M182.60,105.08L182.60,106.69M186.22,107.87L188.30,107.87M186.33,108.17L188.30,108.17M186.50,108.47L188.30,108.47M185.80,108.17L186.33,108.17M185.80,108.47L186.50,108.47M185.80,108.17L185.80,108.47M185.37,107.87L186.22,107.87M185.37,108.32L185.80,108.32M185.37,107.87L185.37,108.32M187.16,108.75L188.30,108.75M187.14,109.10L188.30,109.10M186.70,108.75L187.16,108.75M186.70,109.10L187.14,109.10M186.70,108.75L186.70,109.10M186.52,109.55L188.30,109.55M186.01,108.92L186.70,108.92M186.01,109.55L186.52,109.55M186.01,108.92L186.01,109.55M186.67,109.95L188.30,109.95M186.40,110.21L188.30,110.21M185.62,109.95L186.67,109.95M185.62,110.21L186.40,110.21M185.62,109.95L185.62,110.21M184.78,109.24L186.01,109.24M184.78,110.08L185.62,110.08M184.78,109.24L184.78,110.08M183.77,108.09L185.37,108.09M183.77,109.66L184.78,109.66M183.77,108.09L183.77,109.66M181.45,105.88L182.60,105.88M181.45,108.88L183.77,108.88M181.45,105.88L181.45,108.88M186.15,110.47L188.30,110.47M186.84,110.79L188.30,110.79M186.73,111.11L188.30,111.11M186.37,110.79L186.84,110.79M186.37,111.11L186.73,111.11M186.37,110.79L186.37,111.11M185.24,110.47L186.15,110.47M185.24,110.95L186.37,110.95M185.24,110.47L185.24,110.95M187.61,111.39L188.30,111.39M187.46,111.66L188.30,111.66M187.16,111.39L187.61,111.39M187.16,111.66L187.46,111.66M187.16,111.39L187.16,111.66M187.00,111.95L188.30,111.95M186.48,111.53L187.16,111.53M186.48,111.95L187.00,111.95M186.48,111.53L186.48,111.95M186.83,112.20L188.30,112.20M186.93,112.45L188.30,112.45M186.47,112.20L186.83,112.20M186.47,112.45L186.93,112.45M186.47,112.20L186.47,112.45M187.31,112.69L188.30,112.69M187.24,112.98L188.30,112.98M186.90,112.69L187.31,112.69M186.90,112.98L187.24,112.98M186.90,112.69L186.90,112.98M185.98,112.33L186.47,112.33M185.98,112.83L186.90,112.83M185.98,112.33L185.98,112.83M185.30,111.74L186.48,111.74M185.30,112.58L185.98,112.58M185.30,111.74L185.30,112.58M184.06,110.71L185.24,110.71M184.06,112.16L185.30,112.16M184.06,110.71L184.06,112.16M185.44,113.41L188.30,113.41M186.56,113.78L188.30,113.78M187.05,114.14L188.30,114.14M186.22,113.78L186.56,113.78M186.22,114.14L187.05,114.14M186.22,113.78L186.22,114.14M185.75,114.52L188.30,114.52M185.16,113.96L186.22,113.96M185.16,114.52L185.75,114.52M185.16,113.96L185.16,114.52M184.39,113.41L185.44,113.41M184.39,114.24L185.16,114.24M184.39,113.41L184.39,114.24M186.36,114.94L188.30,114.94M186.47,115.39L188.30,115.39M185.58,114.94L186.36,114.94M185.58,115.39L186.47,115.39M185.58,114.94L185.58,115.39M186.39,115.80L188.30,115.80M186.51,116.22L188.30,116.22M186.48,116.63L188.30,116.63M186.02,116.22L186.51,116.22M186.02,116.63L186.48,116.63M186.02,116.22L186.02,116.63M185.43,115.80L186.39,115.80M185.43,116.43L186.02,116.43M185.43,115.80L185.43,116.43M184.46,115.17L185.58,115.17M184.46,116.11L185.43,116.11M184.46,115.17L184.46,116.11M182.38,113.82L184.39,113.82M182.38,115.64L184.46,115.64M182.38,113.82L182.38,115.64M181.57,111.43L184.06,111.43M181.57,114.73L182.38,114.73M181.57,111.43L181.57,114.73M177.35,107.38L181.45,107.38M177.35,113.08L181.57,113.08M177.35,107.38L177.35,113.08M187.25,117.04L188.30,117.04M187.25,117.36L188.30,117.36M186.93,117.04L187.25,117.04M186.93,117.36L187.25,117.36M186.93,117.04L186.93,117.36M186.85,117.69L188.30,117.69M186.36,117.20L186.93,117.20M186.36,117.69L186.85,117.69M186.36,117.20L186.36,117.69M186.78,118.14L188.30,118.14M186.84,118.49L188.30,118.49M186.46,118.14L186.78,118.14M186.46,118.49L186.84,118.49M186.46,118.14L186.46,118.49M185.74,117.44L186.36,117.44M185.74,118.31L186.46,118.31M185.74,117.44L185.74,118.31M186.29,118.78L188.30,118.78M186.18,119.08L188.30,119.08M185.65,118.78L186.29,118.78M185.65,119.08L186.18,119.08M185.65,118.78L185.65,119.08M186.31,119.38L188.30,119.38M185.22,118.93L185.65,118.93M185.22,119.38L186.31,119.38M185.22,118.93L185.22,119.38M184.79,117.88L185.74,117.88M184.79,119.15L185.22,119.15M184.79,117.88L184.79,119.15M187.50,119.71L188.30,119.71M187.54,119.98L188.30,119.98M187.37,119.71L187.50,119.71M187.37,119.98L187.54,119.98M187.37,119.71L187.37,119.98M187.51,120.42L188.30,120.42M187.19,119.85L187.37,119.85M187.19,120.42L187.51,120.42M187.19,119.85L187.19,120.42M187.55,121.17L188.30,121.17M187.51,121.80L188.30,121.80M187.17,121.17L187.55,121.17M187.17,121.80L187.51,121.80M187.17,121.17L187.17,121.80M186.77,120.14L187.19,120.14M186.77,121.49L187.17,121.49M186.77,120.14L186.77,121.49M186.91,122.28L188.30,122.28M187.60,122.77L188.30,122.77M187.70,123.15L188.30,123.15M187.45,122.77L187.60,122.77M187.45,123.15L187.70,123.15M187.45,122.77L187.45,123.15M187.22,123.45L188.30,123.45M187.05,122.96L187.45,122.96M187.05,123.45L187.22,123.45M187.05,122.96L187.05,123.45M186.25,122.28L186.91,122.28M186.25,123.21L187.05,123.21M186.25,122.28L186.25,123.21M185.85,120.81L186.77,120.81M185.85,122.74L186.25,122.74M185.85,120.81L185.85,122.74M183.63,118.52L184.79,118.52M183.63,121.78L185.85,121.78M183.63,118.52L183.63,121.78M186.58,123.81L188.30,123.81M186.62,124.16L188.30,124.16M186.32,123.81L186.58,123.81M186.32,124.16L186.62,124.16M186.32,123.81L186.32,124.16M186.44,124.45L188.30,124.45M186.43,124.75L188.30,124.75M186.14,124.45L186.44,124.45M186.14,124.75L186.43,124.75M186.14,124.45L186.14,124.75M185.71,123.98L186.32,123.98M185.71,124.60L186.14,124.60M185.71,123.98L185.71,124.60M186.52,125.08L188.30,125.08M186.92,125.42L188.30,125.42M187.15,125.73L188.30,125.73M186.44,125.42L186.92,125.42M186.44,125.73L187.15,125.73M186.44,125.42L186.44,125.73M185.96,125.08L186.52,125.08M185.96,125.57L186.44,125.57M185.96,125.08L185.96,125.57M186.39,126.06L188.30,126.06M186.79,126.49L188.30,126.49M186.09,126.06L186.39,126.06M186.09,126.49L186.79,126.49M186.09,126.06L186.09,126.49M184.81,125.33L185.96,125.33M184.81,126.27L186.09,126.27M184.81,125.33L184.81,126.27M184.14,124.29L185.71,124.29M184.14,125.80L184.81,125.80M184.14,124.29L184.14,125.80M185.68,126.90L188.30,126.90M185.74,127.16L188.30,127.16M184.68,126.90L185.68,126.90M184.68,127.16L185.74,127.16M184.68,126.90L184.68,127.16M185.54,127.44L188.30,127.44M186.04,127.79L188.30,127.79M185.71,128.07L188.30,128.07M185.22,127.79L186.04,127.79M185.22,128.07L185.71,128.07M185.22,127.79L185.22,128.07M184.50,127.44L185.54,127.44M184.50,127.93L185.22,127.93M184.50,127.44L184.50,127.93M183.15,127.03L184.68,127.03M183.15,127.68L184.50,127.68M183.15,127.03L183.15,127.68M182.19,125.05L184.14,125.05M182.19,127.35L183.15,127.35M182.19,125.05L182.19,127.35M181.09,120.15L183.63,120.15M181.09,126.20L182.19,126.20M181.09,120.15L181.09,126.20M186.42,128.27L188.30,128.27M186.16,128.54L188.30,128.54M185.67,128.27L186.42,128.27M185.67,128.54L186.16,128.54M185.67,128.27L185.67,128.54M186.19,128.92L188.30,128.92M186.66,129.26L188.30,129.26M185.88,128.92L186.19,128.92M185.88,129.26L186.66,129.26M185.88,128.92L185.88,129.26M185.74,129.58L188.30,129.58M185.06,129.09L185.88,129.09M185.06,129.58L185.74,129.58M185.06,129.09L185.06,129.58M184.50,128.40L185.67,128.40M184.50,129.33L185.06,129.33M184.50,128.40L184.50,129.33M185.64,130.01L188.30,130.01M185.54,130.44L188.30,130.44M185.04,130.01L185.64,130.01M185.04,130.44L185.54,130.44M185.04,130.01L185.04,130.44M187.13,130.85L188.30,130.85M187.28,131.23L188.30,131.23M187.39,131.63L188.30,131.63M187.01,131.23L187.28,131.23M187.01,131.63L187.39,131.63M187.01,131.23L187.01,131.63M186.65,130.85L187.13,130.85M186.65,131.43L187.01,131.43M186.65,130.85L186.65,131.43M187.10,132.00L188.30,132.00M186.99,132.28L188.30,132.28M186.75,132.00L187.10,132.00M186.75,132.28L186.99,132.28M186.75,132.00L186.75,132.28M185.91,131.14L186.65,131.14M185.91,132.14L186.75,132.14M185.91,131.14L185.91,132.14M184.41,130.22L185.04,130.22M184.41,131.64L185.91,131.64M184.41,130.22L184.41,131.64M182.72,128.87L184.50,128.87M182.72,130.93L184.41,130.93M182.72,128.87L182.72,130.93M187.22,132.68L188.30,132.68M187.34,133.03L188.30,133.03M187.60,133.32L188.30,133.32M187.20,133.03L187.34,133.03M187.20,133.32L187.60,133.32M187.20,133.03L187.20,133.32M187.03,132.68L187.22,132.68M187.03,133.17L187.20,133.17M187.03,132.68L187.03,133.17M187.51,133.72L188.30,133.72M187.26,134.17L188.30,134.17M187.12,133.72L187.51,133.72M187.12,134.17L187.26,134.17M187.12,133.72L187.12,134.17M186.54,132.93L187.03,132.93M186.54,133.95L187.12,133.95M186.54,132.93L186.54,133.95M187.50,134.49L188.30,134.49M187.56,134.75L188.30,134.75M187.35,134.49L187.50,134.49M187.35,134.75L187.56,134.75M187.35,134.49L187.35,134.75M187.61,135.03L188.30,135.03M187.39,135.32L188.30,135.32M187.22,135.03L187.61,135.03M187.22,135.32L187.39,135.32M187.22,135.03L187.22,135.32M187.03,134.62L187.35,134.62M187.03,135.18L187.22,135.18M187.03,134.62L187.03,135.18M187.16,135.69L188.30,135.69M187.33,136.06L188.30,136.06M187.41,136.39L188.30,136.39M187.11,136.06L187.33,136.06M187.11,136.39L187.41,136.39M187.11,136.06L187.11,136.39M186.88,135.69L187.16,135.69M186.88,136.23L187.11,136.23M186.88,135.69L186.88,136.23M186.28,134.90L187.03,134.90M186.28,135.96L186.88,135.96M186.28,134.90L186.28,135.96M185.56,133.44L186.54,133.44M185.56,135.43L186.28,135.43M185.56,133.44L185.56,135.43M187.52,136.71L188.30,136.71M187.22,136.97L188.30,136.97M187.03,136.71L187.52,136.71M187.03,136.97L187.22,136.97M187.03,136.71L187.03,136.97M187.02,137.22L188.30,137.22M186.45,136.84L187.03,136.84M186.45,137.22L187.02,137.22M186.45,136.84L186.45,137.22M187.04,137.43L188.30,137.43M186.98,137.71L188.30,137.71M186.76,137.43L187.04,137.43M186.76,137.71L186.98,137.71M186.76,137.43L186.76,137.71M186.78,138.09L188.30,138.09M186.45,137.57L186.76,137.57M186.45,138.09L186.78,138.09M186.45,137.57L186.45,138.09M187.33,138.45L188.30,138.45M187.05,138.81L188.30,138.81M186.70,138.45L187.33,138.45M186.70,138.81L187.05,138.81M186.70,138.45L186.70,138.81M185.98,137.83L186.45,137.83M185.98,138.63L186.70,138.63M185.98,137.83L185.98,138.63M185.32,137.03L186.45,137.03M185.32,138.23L185.98,138.23M185.32,137.03L185.32,138.23M183.75,134.43L185.56,134.43M183.75,137.63L185.32,137.63M183.75,134.43L183.75,137.63M180.67,129.90L182.72,129.90M180.67,136.03L183.75,136.03M180.67,129.90L180.67,136.03M178.21,123.17L181.09,123.17M178.21,132.97L180.67,132.97M178.21,123.17L178.21,132.97M169.20,110.23L177.35,110.23M169.20,128.07L178.21,128.07M169.20,110.23L169.20,128.07M169.20,119.15L169.20,122.40M184.48,139.22L188.30,139.22M185.25,139.62L188.30,139.62M183.27,139.22L184.48,139.22M183.27,139.62L185.25,139.62M183.27,139.22L183.27,139.62M184.43,139.98L188.30,139.98M185.73,140.36L188.30,140.36M186.14,140.79L188.30,140.79M185.33,140.36L185.73,140.36M185.33,140.79L186.14,140.79M185.33,140.36L185.33,140.79M183.82,139.98L184.43,139.98M183.82,140.58L185.33,140.58M183.82,139.98L183.82,140.58M181.03,139.42L183.27,139.42M181.03,140.28L183.82,140.28M181.03,139.42L181.03,140.28M182.65,141.18L188.30,141.18M185.75,141.50L188.30,141.50M184.73,141.82L188.30,141.82M184.18,141.50L185.75,141.50M184.18,141.82L184.73,141.82M184.18,141.50L184.18,141.82M181.74,141.18L182.65,141.18M181.74,141.66L184.18,141.66M181.74,141.18L181.74,141.66M181.31,142.19L188.30,142.19M179.37,141.42L181.74,141.42M179.37,142.19L181.31,142.19M179.37,141.42L179.37,142.19M177.59,139.85L181.03,139.85M177.59,141.80L179.37,141.80M177.59,139.85L177.59,141.80M179.63,142.52L188.30,142.52M179.60,142.82L188.30,142.82M178.29,142.52L179.63,142.52M178.29,142.82L179.60,142.82M178.29,142.52L178.29,142.82M182.55,143.19L188.30,143.19M181.56,143.61L188.30,143.61M180.43,143.19L182.55,143.19M180.43,143.61L181.56,143.61M180.43,143.19L180.43,143.61M181.31,144.03L188.30,144.03M178.82,143.40L180.43,143.40M178.82,144.03L181.31,144.03M178.82,143.40L178.82,144.03M175.92,142.67L178.29,142.67M175.92,143.72L178.82,143.72M175.92,142.67L175.92,143.72M182.48,144.38L188.30,144.38M183.45,144.77L188.30,144.77M181.64,144.38L182.48,144.38M181.64,144.77L183.45,144.77M181.64,144.38L181.64,144.77M182.32,145.21L188.30,145.21M178.96,144.58L181.64,144.58M178.96,145.21L182.32,145.21M178.96,144.58L178.96,145.21M184.40,145.62L188.30,145.62M184.70,146.02L188.30,146.02M182.54,145.62L184.40,145.62M182.54,146.02L184.70,146.02M182.54,145.62L182.54,146.02M183.62,146.37L188.30,146.37M184.28,146.77L188.30,146.77M182.10,146.37L183.62,146.37M182.10,146.77L184.28,146.77M182.10,146.37L182.10,146.77M180.29,145.82L182.54,145.82M180.29,146.57L182.10,146.57M180.29,145.82L180.29,146.57M177.31,144.89L178.96,144.89M177.31,146.19L180.29,146.19M177.31,144.89L177.31,146.19M166.10,143.19L175.92,143.19M166.10,145.54L177.31,145.54M166.10,143.19L166.10,145.54M161.60,140.83L177.59,140.83M161.60,144.37L166.10,144.37M161.60,140.83L161.60,144.37M161.60,142.40L161.60,142.60M182.46,147.17L188.30,147.17M182.37,147.56L188.30,147.56M181.38,147.17L182.46,147.17M181.38,147.56L182.37,147.56M181.38,147.17L181.38,147.56M183.59,147.95L188.30,147.95M183.29,148.26L188.30,148.26M182.49,147.95L183.59,147.95M182.49,148.26L183.29,148.26M182.49,147.95L182.49,148.26M184.84,148.51L188.30,148.51M184.49,148.79L188.30,148.79M183.83,148.51L184.84,148.51M183.83,148.79L184.49,148.79M183.83,148.51L183.83,148.79M184.05,149.14L188.30,149.14M183.15,148.65L183.83,148.65M183.15,149.14L184.05,149.14M183.15,148.65L183.15,149.14M181.52,148.10L182.49,148.10M181.52,148.90L183.15,148.90M181.52,148.10L181.52,148.90M177.87,147.36L181.38,147.36M177.87,148.50L181.52,148.50M177.87,147.36L177.87,148.50M185.87,149.51L188.30,149.51M186.16,149.78L188.30,149.78M184.81,149.51L185.87,149.51M184.81,149.78L186.16,149.78M184.81,149.51L184.81,149.78M184.63,150.06L188.30,150.06M183.44,149.64L184.81,149.64M183.44,150.06L184.63,150.06M183.44,149.64L183.44,150.06M184.62,150.48L188.30,150.48M183.97,150.89L188.30,150.89M182.92,150.48L184.62,150.48M182.92,150.89L183.97,150.89M182.92,150.48L182.92,150.89M180.58,149.85L183.44,149.85M180.58,150.68L182.92,150.68M180.58,149.85L180.58,150.68M184.10,151.25L188.30,151.25M185.05,151.68L188.30,151.68M184.79,152.09L188.30,152.09M184.23,151.68L185.05,151.68M184.23,152.09L184.79,152.09M184.23,151.68L184.23,152.09M183.26,151.25L184.10,151.25M183.26,151.89L184.23,151.89M183.26,151.25L183.26,151.89M184.31,152.49L188.30,152.49M183.50,152.86L188.30,152.86M182.79,152.49L184.31,152.49M182.79,152.86L183.50,152.86M182.79,152.49L182.79,152.86M181.77,151.57L183.26,151.57M181.77,152.67L182.79,152.67M181.77,151.57L181.77,152.67M178.55,150.26L180.58,150.26M178.55,152.12L181.77,152.12M178.55,150.26L178.55,152.12M176.00,147.93L177.87,147.93M176.00,151.19L178.55,151.19M176.00,147.93L176.00,151.19M176.00,149.56L176.00,150.00M186.62,153.14L188.30,153.14M186.51,153.44L188.30,153.44M185.58,153.14L186.62,153.14M185.58,153.44L186.51,153.44M185.58,153.14L185.58,153.44M186.54,153.70L188.30,153.70M186.91,153.98L188.30,153.98M186.07,153.70L186.54,153.70M186.07,153.98L186.91,153.98M186.07,153.70L186.07,153.98M185.03,153.29L185.58,153.29M185.03,153.84L186.07,153.84M185.03,153.29L185.03,153.84M185.17,154.33L188.30,154.33M185.18,154.68L188.30,154.68M184.18,154.33L185.17,154.33M184.18,154.68L185.18,154.68M184.18,154.33L184.18,154.68M183.47,153.57L185.03,153.57M183.47,154.51L184.18,154.51M183.47,153.57L183.47,154.51M187.14,155.07L188.30,155.07M187.35,155.39L188.30,155.39M186.97,155.07L187.14,155.07M186.97,155.39L187.35,155.39M186.97,155.07L186.97,155.39M186.79,155.68L188.30,155.68M186.56,155.23L186.97,155.23M186.56,155.68L186.79,155.68M186.56,155.23L186.56,155.68M186.22,156.10L188.30,156.10M185.86,155.46L186.56,155.46M185.86,156.10L186.22,156.10M185.86,155.46L185.86,156.10M186.47,156.57L188.30,156.57M186.08,157.05L188.30,157.05M185.41,156.57L186.47,156.57M185.41,157.05L186.08,157.05M185.41,156.57L185.41,157.05M184.35,155.78L185.86,155.78M184.35,156.81L185.41,156.81M184.35,155.78L184.35,156.81M182.79,154.04L183.47,154.04M182.79,156.29L184.35,156.29M182.79,154.04L182.79,156.29M186.50,157.47L188.30,157.47M186.51,157.74L188.30,157.74M185.51,157.47L186.50,157.47M185.51,157.74L186.51,157.74M185.51,157.47L185.51,157.74M186.08,158.05L188.30,158.05M185.87,158.45L188.30,158.45M185.41,158.05L186.08,158.05M185.41,158.45L185.87,158.45M185.41,158.05L185.41,158.45M184.73,157.61L185.51,157.61M184.73,158.25L185.41,158.25M184.73,157.61L184.73,158.25M186.36,158.78L188.30,158.78M186.75,159.16L188.30,159.16M186.02,158.78L186.36,158.78M186.02,159.16L186.75,159.16M186.02,158.78L186.02,159.16M185.64,159.63L188.30,159.63M185.23,158.97L186.02,158.97M185.23,159.63L185.64,159.63M185.23,158.97L185.23,159.63M183.72,157.93L184.73,157.93M183.72,159.30L185.23,159.30M183.72,157.93L183.72,159.30M187.11,159.95L188.30,159.95M187.15,160.27L188.30,160.27M186.69,159.95L187.11,159.95M186.69,160.27L187.15,160.27M186.69,159.95L186.69,160.27M186.83,160.59L188.30,160.59M186.79,160.85L188.30,160.85M186.40,160.59L186.83,160.59M186.40,160.85L186.79,160.85M186.40,160.59L186.40,160.85M185.84,160.11L186.69,160.11M185.84,160.72L186.40,160.72M185.84,160.11L185.84,160.72M186.49,161.25L188.30,161.25M187.52,161.67L188.30,161.67M187.55,161.93L188.30,161.93M187.10,161.67L187.52,161.67M187.10,161.93L187.55,161.93M187.10,161.67L187.10,161.93M187.36,162.16L188.30,162.16M187.31,162.43L188.30,162.43M186.95,162.16L187.36,162.16M186.95,162.43L187.31,162.43M186.95,162.16L186.95,162.43M186.54,161.80L187.10,161.80M186.54,162.30L186.95,162.30M186.54,161.80L186.54,162.30M186.02,161.25L186.49,161.25M186.02,162.05L186.54,162.05M186.02,161.25L186.02,162.05M184.73,160.41L185.84,160.41M184.73,161.65L186.02,161.65M184.73,160.41L184.73,161.65M186.68,162.79L188.30,162.79M186.53,163.22L188.30,163.22M186.09,162.79L186.68,162.79M186.09,163.22L186.53,163.22M186.09,162.79L186.09,163.22M186.56,163.49L188.30,163.49M186.72,163.75L188.30,163.75M186.27,163.49L186.56,163.49M186.27,163.75L186.72,163.75M186.27,163.49L186.27,163.75M185.46,163.00L186.09,163.00M185.46,163.62L186.27,163.62M185.46,163.00L185.46,163.62M183.97,161.03L184.73,161.03M183.97,163.31L185.46,163.31M183.97,161.03L183.97,163.31M182.60,158.61L183.72,158.61M182.60,162.17L183.97,162.17M182.60,158.61L182.60,162.17M180.56,155.16L182.79,155.16M180.56,160.39L182.60,160.39M180.56,155.16L180.56,160.39M186.14,164.16L188.30,164.16M186.08,164.55L188.30,164.55M184.78,164.16L186.14,164.16M184.78,164.55L186.08,164.55M184.78,164.16L184.78,164.55M186.53,164.89L188.30,164.89M186.45,165.17L188.30,165.17M185.56,164.89L186.53,164.89M185.56,165.17L186.45,165.17M185.56,164.89L185.56,165.17M184.20,164.36L184.78,164.36M184.20,165.03L185.56,165.03M184.20,164.36L184.20,165.03M185.57,165.46L188.30,165.46M185.18,165.79L188.30,165.79M184.75,165.46L185.57,165.46M184.75,165.79L185.18,165.79M184.75,165.46L184.75,165.79M185.65,166.13L188.30,166.13M183.94,165.63L184.75,165.63M183.94,166.13L185.65,166.13M183.94,165.63L183.94,166.13M185.06,166.49L188.30,166.49M185.58,166.92L188.30,166.92M184.40,166.49L185.06,166.49M184.40,166.92L185.58,166.92M184.40,166.49L184.40,166.92M182.99,165.88L183.94,165.88M182.99,166.70L184.40,166.70M182.99,165.88L182.99,166.70M181.69,164.69L184.20,164.69M181.69,166.29L182.99,166.29M181.69,164.69L181.69,166.29M185.87,167.37L188.30,167.37M185.53,167.79L188.30,167.79M184.72,167.37L185.87,167.37M184.72,167.79L185.53,167.79M184.72,167.37L184.72,167.79M186.62,168.13L188.30,168.13M186.81,168.46L188.30,168.46M185.93,168.13L186.62,168.13M185.93,168.46L186.81,168.46M185.93,168.13L185.93,168.46M186.00,168.84L188.30,168.84M185.41,168.30L185.93,168.30M185.41,168.84L186.00,168.84M185.41,168.30L185.41,168.84M184.09,167.58L184.72,167.58M184.09,168.57L185.41,168.57M184.09,167.58L184.09,168.57M184.95,169.19L188.30,169.19M185.56,169.48L188.30,169.48M186.01,169.79L188.30,169.79M185.13,169.48L185.56,169.48M185.13,169.79L186.01,169.79M185.13,169.48L185.13,169.79M183.53,169.19L184.95,169.19M183.53,169.64L185.13,169.64M183.53,169.19L183.53,169.64M181.56,168.07L184.09,168.07M181.56,169.41L183.53,169.41M181.56,168.07L181.56,169.41M178.39,165.49L181.69,165.49M178.39,168.74L181.56,168.74M178.39,165.49L178.39,168.74M173.46,157.78L180.56,157.78M173.46,167.12L178.39,167.12M173.46,157.78L173.46,167.12M187.20,170.15L188.30,170.15M187.22,170.47L188.30,170.47M186.73,170.15L187.20,170.15M186.73,170.47L187.22,170.47M186.73,170.15L186.73,170.47M186.95,170.78L188.30,170.78M187.14,171.05L188.30,171.05M186.74,170.78L186.95,170.78M186.74,171.05L187.14,171.05M186.74,170.78L186.74,171.05M186.41,170.31L186.73,170.31M186.41,170.92L186.74,170.92M186.41,170.31L186.41,170.92M187.61,171.70L188.30,171.70M187.69,172.53L188.30,172.53M187.31,171.70L187.61,171.70M187.31,172.53L187.69,172.53M187.31,171.70L187.31,172.53M187.43,173.02L188.30,173.02M187.60,173.35L188.30,173.35M187.62,173.64L188.30,173.64M187.48,173.35L187.60,173.35M187.48,173.64L187.62,173.64M187.48,173.35L187.48,173.64M187.02,173.02L187.43,173.02M187.02,173.49L187.48,173.49M187.02,173.02L187.02,173.49M186.69,172.11L187.31,172.11M186.69,173.25L187.02,173.25M186.69,172.11L186.69,173.25M186.07,170.61L186.41,170.61M186.07,172.68L186.69,172.68M186.07,170.61L186.07,172.68M186.87,173.98L188.30,173.98M186.86,174.30L188.30,174.30M186.10,173.98L186.87,173.98M186.10,174.30L186.86,174.30M186.10,173.98L186.10,174.30M187.23,174.58L188.30,174.58M187.24,174.85L188.30,174.85M186.57,174.58L187.23,174.58M186.57,174.85L187.24,174.85M186.57,174.58L186.57,174.85M185.71,174.14L186.10,174.14M185.71,174.71L186.57,174.71M185.71,174.14L185.71,174.71M186.97,175.15L188.30,175.15M187.34,175.51L188.30,175.51M187.42,175.88L188.30,175.88M187.03,175.51L187.34,175.51M187.03,175.88L187.42,175.88M187.03,175.51L187.03,175.88M186.75,175.15L186.97,175.15M186.75,175.69L187.03,175.69M186.75,175.15L186.75,175.69M186.87,176.23L188.30,176.23M186.73,176.50L188.30,176.50M186.45,176.23L186.87,176.23M186.45,176.50L186.73,176.50M186.45,176.23L186.45,176.50M186.64,176.82L188.30,176.82M186.14,176.37L186.45,176.37M186.14,176.82L186.64,176.82M186.14,176.37L186.14,176.82M185.76,175.42L186.75,175.42M185.76,176.59L186.14,176.59M185.76,175.42L185.76,176.59M185.27,174.42L185.71,174.42M185.27,176.01L185.76,176.01M185.27,174.42L185.27,176.01M184.64,171.65L186.07,171.65M184.64,175.22L185.27,175.22M184.64,171.65L184.64,175.22M187.00,177.17L188.30,177.17M187.18,177.46L188.30,177.46M187.31,177.79L188.30,177.79M186.98,177.46L187.18,177.46M186.98,177.79L187.31,177.79M186.98,177.46L186.98,177.79M186.35,177.17L187.00,177.17M186.35,177.62L186.98,177.62M186.35,177.17L186.35,177.62M186.98,178.19L188.30,178.19M187.32,178.53L188.30,178.53M187.39,178.80L188.30,178.80M187.08,178.53L187.32,178.53M187.08,178.80L187.39,178.80M187.08,178.53L187.08,178.80M186.34,178.19L186.98,178.19M186.34,178.66L187.08,178.66M186.34,178.19L186.34,178.66M185.11,177.40L186.35,177.40M185.11,178.42L186.34,178.42M185.11,177.40L185.11,178.42M186.83,179.15L188.30,179.15M187.26,179.49L188.30,179.49M187.38,179.77L188.30,179.77M187.10,179.49L187.26,179.49M187.10,179.77L187.38,179.77M187.10,179.49L187.10,179.77M186.43,179.15L186.83,179.15M186.43,179.63L187.10,179.63M186.43,179.15L186.43,179.63M186.89,180.04L188.30,180.04M186.55,180.39L188.30,180.39M186.26,180.04L186.89,180.04M186.26,180.39L186.55,180.39M186.26,180.04L186.26,180.39M185.46,179.39L186.43,179.39M185.46,180.22L186.26,180.22M185.46,179.39L185.46,180.22M184.18,177.91L185.11,177.91M184.18,179.80L185.46,179.80M184.18,177.91L184.18,179.80M183.16,173.43L184.64,173.43M183.16,178.86L184.18,178.86M183.16,173.43L183.16,178.86M186.92,180.76L188.30,180.76M186.99,181.08L188.30,181.08M186.52,180.76L186.92,180.76M186.52,181.08L186.99,181.08M186.52,180.76L186.52,181.08M186.95,181.37L188.30,181.37M187.55,181.63L188.30,181.63M187.44,181.91L188.30,181.91M187.30,181.63L187.55,181.63M187.30,181.91L187.44,181.91M187.30,181.63L187.30,181.91M186.65,181.37L186.95,181.37M186.65,181.77L187.30,181.77M186.65,181.37L186.65,181.77M186.26,180.92L186.52,180.92M186.26,181.57L186.65,181.57M186.26,180.92L186.26,181.57M187.35,182.23L188.30,182.23M187.38,182.54L188.30,182.54M187.48,182.79L188.30,182.79M187.24,182.54L187.38,182.54M187.24,182.79L187.48,182.79M187.24,182.54L187.24,182.79M186.76,182.23L187.35,182.23M186.76,182.66L187.24,182.66M186.76,182.23L186.76,182.66M185.98,181.25L186.26,181.25M185.98,182.45L186.76,182.45M185.98,181.25L185.98,182.45M187.18,183.15L188.30,183.15M187.17,183.49L188.30,183.49M186.69,183.15L187.18,183.15M186.69,183.49L187.17,183.49M186.69,183.15L186.69,183.49M186.79,183.83L188.30,183.83M186.18,183.32L186.69,183.32M186.18,183.83L186.79,183.83M186.18,183.32L186.18,183.83M185.58,181.85L185.98,181.85M185.58,183.57L186.18,183.57M185.58,181.85L185.58,183.57M185.79,184.28L188.30,184.28M187.09,184.76L188.30,184.76M187.34,185.19L188.30,185.19M187.56,185.47L188.30,185.47M187.06,185.19L187.34,185.19M187.06,185.47L187.56,185.47M187.06,185.19L187.06,185.47M186.39,184.76L187.09,184.76M186.39,185.33L187.06,185.33M186.39,184.76L186.39,185.33M185.42,184.28L185.79,184.28M185.42,185.05L186.39,185.05M185.42,184.28L185.42,185.05M184.57,182.71L185.58,182.71M184.57,184.66L185.42,184.66M184.57,182.71L184.57,184.66M187.39,185.78L188.30,185.78M187.41,186.15L188.30,186.15M187.23,185.78L187.39,185.78M187.23,186.15L187.41,186.15M187.23,185.78L187.23,186.15M187.68,186.49L188.30,186.49M187.49,186.76L188.30,186.76M187.31,186.49L187.68,186.49M187.31,186.76L187.49,186.76M187.31,186.49L187.31,186.76M187.72,186.93L188.30,186.93M187.76,187.22L188.30,187.22M187.41,186.93L187.72,186.93M187.41,187.22L187.76,187.22M187.41,186.93L187.41,187.22M187.15,186.62L187.31,186.62M187.15,187.07L187.41,187.07M187.15,186.62L187.15,187.07M186.86,185.96L187.23,185.96M186.86,186.85L187.15,186.85M186.86,185.96L186.86,186.85M187.18,187.63L188.30,187.63M187.21,188.03L188.30,188.03M186.96,187.63L187.18,187.63M186.96,188.03L187.21,188.03M186.96,187.63L186.96,188.03M186.55,186.41L186.86,186.41M186.55,187.83L186.96,187.83M186.55,186.41L186.55,187.83M187.64,188.42L188.30,188.42M187.60,188.98L188.30,188.98M187.44,188.42L187.64,188.42M187.44,188.98L187.60,188.98M187.44,188.42L187.44,188.98M187.36,189.50L188.30,189.50M187.49,189.78L188.30,189.78M187.08,189.50L187.36,189.50M187.08,189.78L187.49,189.78M187.08,189.50L187.08,189.78M186.90,188.70L187.44,188.70M186.90,189.64L187.08,189.64M186.90,188.70L186.90,189.64M186.00,187.12L186.55,187.12M186.00,189.17L186.90,189.17M186.00,187.12L186.00,189.17M187.00,190.06L188.30,190.06M187.00,190.36L188.30,190.36M186.62,190.06L187.00,190.06M186.62,190.36L187.00,190.36M186.62,190.06L186.62,190.36M186.64,190.70L188.30,190.70M186.34,190.21L186.62,190.21M186.34,190.70L186.64,190.70M186.34,190.21L186.34,190.70M187.46,191.10L188.30,191.10M187.67,191.42L188.30,191.42M187.51,191.69L188.30,191.69M187.36,191.42L187.67,191.42M187.36,191.69L187.51,191.69M187.36,191.42L187.36,191.69M187.14,191.10L187.46,191.10M187.14,191.55L187.36,191.55M187.14,191.10L187.14,191.55M187.63,192.05L188.30,192.05M187.43,192.51L188.30,192.51M187.31,192.05L187.63,192.05M187.31,192.51L187.43,192.51M187.31,192.05L187.31,192.51M186.68,191.32L187.14,191.32M186.68,192.28L187.31,192.28M186.68,191.32L186.68,192.28M185.63,190.46L186.34,190.46M185.63,191.80L186.68,191.80M185.63,190.46L185.63,191.80M185.12,188.14L186.00,188.14M185.12,191.13L185.63,191.13M185.12,188.14L185.12,191.13M183.43,183.69L184.57,183.69M183.43,189.64L185.12,189.64M183.43,183.69L183.43,189.64M181.04,176.14L183.16,176.14M181.04,186.66L183.43,186.66M181.04,176.14L181.04,186.66M186.55,192.98L188.30,192.98M187.16,193.32L188.30,193.32M187.24,193.57L188.30,193.57M186.74,193.32L187.16,193.32M186.74,193.57L187.24,193.57M186.74,193.32L186.74,193.57M185.79,192.98L186.55,192.98M185.79,193.45L186.74,193.45M185.79,192.98L185.79,193.45M187.13,193.88L188.30,193.88M187.43,194.30L188.30,194.30M186.89,193.88L187.13,193.88M186.89,194.30L187.43,194.30M186.89,193.88L186.89,194.30M186.92,194.74L188.30,194.74M186.01,194.09L186.89,194.09M186.01,194.74L186.92,194.74M186.01,194.09L186.01,194.74M185.43,193.21L185.79,193.21M185.43,194.42L186.01,194.42M185.43,193.21L185.43,194.42M186.82,195.13L188.30,195.13M187.10,195.49L188.30,195.49M186.38,195.13L186.82,195.13M186.38,195.49L187.10,195.49M186.38,195.13L186.38,195.49M187.32,195.78L188.30,195.78M187.37,196.08L188.30,196.08M187.05,195.78L187.32,195.78M187.05,196.08L187.37,196.08M187.05,195.78L187.05,196.08M187.38,196.51L188.30,196.51M187.46,196.93L188.30,196.93M187.19,196.51L187.38,196.51M187.19,196.93L187.46,196.93M187.19,196.51L187.19,196.93M186.58,195.93L187.05,195.93M186.58,196.72L187.19,196.72M186.58,195.93L186.58,196.72M185.75,195.31L186.38,195.31M185.75,196.33L186.58,196.33M185.75,195.31L185.75,196.33M184.99,193.81L185.43,193.81M184.99,195.82L185.75,195.82M184.99,193.81L184.99,195.82M185.68,197.35L188.30,197.35M186.01,197.72L188.30,197.72M185.97,198.10L188.30,198.10M184.83,197.72L186.01,197.72M184.83,198.10L185.97,198.10M184.83,197.72L184.83,198.10M184.00,197.35L185.68,197.35M184.00,197.91L184.83,197.91M184.00,197.35L184.00,197.91M186.50,198.55L188.30,198.55M186.98,198.89L188.30,198.89M186.73,199.17L188.30,199.17M186.23,198.89L186.98,198.89M186.23,199.17L186.73,199.17M186.23,198.89L186.23,199.17M185.74,198.55L186.50,198.55M185.74,199.03L186.23,199.03M185.74,198.55L185.74,199.03M186.75,199.49L188.30,199.49M186.85,199.74L188.30,199.74M187.22,200.08L188.30,200.08M186.63,199.74L186.85,199.74M186.63,200.08L187.22,200.08M186.63,199.74L186.63,200.08M185.99,199.49L186.75,199.49M185.99,199.91L186.63,199.91M185.99,199.49L185.99,199.91M186.81,200.43L188.30,200.43M186.27,200.68L188.30,200.68M185.96,200.43L186.81,200.43M185.96,200.68L186.27,200.68M185.96,200.43L185.96,200.68M185.52,199.70L185.99,199.70M185.52,200.56L185.96,200.56M185.52,199.70L185.52,200.56M184.36,198.79L185.74,198.79M184.36,200.13L185.52,200.13M184.36,198.79L184.36,200.13M183.27,197.63L184.00,197.63M183.27,199.46L184.36,199.46M183.27,197.63L183.27,199.46M182.48,194.82L184.99,194.82M182.48,198.54L183.27,198.54M182.48,194.82L182.48,198.54M186.61,200.95L188.30,200.95M186.78,201.25L188.30,201.25M185.88,200.95L186.61,200.95M185.88,201.25L186.78,201.25M185.88,200.95L185.88,201.25M185.86,201.62L188.30,201.62M185.47,201.10L185.88,201.10M185.47,201.62L185.86,201.62M185.47,201.10L185.47,201.62M185.42,202.08L188.30,202.08M184.96,201.36L185.47,201.36M184.96,202.08L185.42,202.08M184.96,201.36L184.96,202.08M185.49,202.56L188.30,202.56M186.08,202.93L188.30,202.93M184.99,202.56L185.49,202.56M184.99,202.93L186.08,202.93M184.99,202.56L184.99,202.93M186.15,203.17L188.30,203.17M185.93,203.43L188.30,203.43M185.60,203.17L186.15,203.17M185.60,203.43L185.93,203.43M185.60,203.17L185.60,203.43M184.45,202.75L184.99,202.75M184.45,203.30L185.60,203.30M184.45,202.75L184.45,203.30M183.59,201.72L184.96,201.72M183.59,203.03L184.45,203.03M183.59,201.72L183.59,203.03M186.87,203.73L188.30,203.73M186.39,204.09L188.30,204.09M185.98,203.73L186.87,203.73M185.98,204.09L186.39,204.09M185.98,203.73L185.98,204.09M186.52,204.42L188.30,204.42M186.35,204.80L188.30,204.80M186.03,204.42L186.52,204.42M186.03,204.80L186.35,204.80M186.03,204.42L186.03,204.80M185.53,203.91L185.98,203.91M185.53,204.61L186.03,204.61M185.53,203.91L185.53,204.61M186.63,205.27L188.30,205.27M186.91,205.59L188.30,205.59M187.07,205.84L188.30,205.84M186.65,205.59L186.91,205.59M186.65,205.84L187.07,205.84M186.65,205.59L186.65,205.84M185.93,205.27L186.63,205.27M185.93,205.71L186.65,205.71M185.93,205.27L185.93,205.71M184.53,204.26L185.53,204.26M184.53,205.49L185.93,205.49M184.53,204.26L184.53,205.49M182.74,202.37L183.59,202.37M182.74,204.88L184.53,204.88M182.74,202.37L182.74,204.88M180.20,196.68L182.48,196.68M180.20,203.62L182.74,203.62M180.20,196.68L180.20,203.62M175.14,181.40L181.04,181.40M175.14,200.15L180.20,200.15M175.14,181.40L175.14,200.15M171.50,162.45L173.46,162.45M171.50,190.78L175.14,190.78M171.50,162.45L171.50,190.78M171.50,176.61L171.50,179.60M184.37,206.24L188.30,206.24M183.45,206.64L188.30,206.64M182.22,206.24L184.37,206.24M182.22,206.64L183.45,206.64M182.22,206.24L182.22,206.64M182.91,206.92L188.30,206.92M183.09,207.28L188.30,207.28M181.62,206.92L182.91,206.92M181.62,207.28L183.09,207.28M181.62,206.92L181.62,207.28M179.54,206.44L182.22,206.44M179.54,207.10L181.62,207.10M179.54,206.44L179.54,207.10M185.38,207.69L188.30,207.69M185.13,207.97L188.30,207.97M184.58,207.69L185.38,207.69M184.58,207.97L185.13,207.97M184.58,207.69L184.58,207.97M183.15,208.31L188.30,208.31M182.23,207.83L184.58,207.83M182.23,208.31L183.15,208.31M182.23,207.83L182.23,208.31M184.89,208.68L188.30,208.68M184.50,208.94L188.30,208.94M183.00,208.68L184.89,208.68M183.00,208.94L184.50,208.94M183.00,208.68L183.00,208.94M180.76,208.07L182.23,208.07M180.76,208.81L183.00,208.81M180.76,208.07L180.76,208.81M176.30,206.77L179.54,206.77M176.30,208.44L180.76,208.44M176.30,206.77L176.30,208.44M181.30,209.30L188.30,209.30M183.56,209.69L188.30,209.69M183.16,209.98L188.30,209.98M182.28,209.69L183.56,209.69M182.28,209.98L183.16,209.98M182.28,209.69L182.28,209.98M181.12,210.37L188.30,210.37M179.41,209.83L182.28,209.83M179.41,210.37L181.12,210.37M179.41,209.83L179.41,210.37M176.79,209.30L181.30,209.30M176.79,210.10L179.41,210.10M176.79,209.30L176.79,210.10M173.56,207.60L176.30,207.60M173.56,209.70L176.79,209.70M173.56,207.60L173.56,209.70M184.59,210.73L188.30,210.73M184.33,211.09L188.30,211.09M182.27,210.73L184.59,210.73M182.27,211.09L184.33,211.09M182.27,210.73L182.27,211.09M182.74,211.51L188.30,211.51M181.31,210.91L182.27,210.91M181.31,211.51L182.74,211.51M181.31,210.91L181.31,211.51M184.51,211.89L188.30,211.89M184.27,212.24L188.30,212.24M183.55,211.89L184.51,211.89M183.55,212.24L184.27,212.24M183.55,211.89L183.55,212.24M185.16,212.61L188.30,212.61M185.18,213.02L188.30,213.02M183.23,212.61L185.16,212.61M183.23,213.02L185.18,213.02M183.23,212.61L183.23,213.02M182.49,212.07L183.55,212.07M182.49,212.82L183.23,212.82M182.49,212.07L182.49,212.82M182.60,213.41L188.30,213.41M183.85,213.80L188.30,213.80M181.60,213.41L182.60,213.41M181.60,213.80L183.85,213.80M181.60,213.41L181.60,213.80M180.43,212.44L182.49,212.44M180.43,213.60L181.60,213.60M180.43,212.44L180.43,213.60M178.01,211.21L181.31,211.21M178.01,213.02L180.43,213.02M178.01,211.21L178.01,213.02M168.60,208.65L173.56,208.65M168.60,212.12L178.01,212.12M168.60,208.65L168.60,212.12M168.60,210.39L168.60,211.60M183.77,214.21L188.30,214.21M184.24,214.65L188.30,214.65M182.79,214.21L183.77,214.21M182.79,214.65L184.24,214.65M182.79,214.21L182.79,214.65M185.93,215.03L188.30,215.03M185.87,215.32L188.30,215.32M185.49,215.03L185.93,215.03M185.49,215.32L185.87,215.32M185.49,215.03L185.49,215.32M185.97,215.60L188.30,215.60M184.73,215.17L185.49,215.17M184.73,215.60L185.97,215.60M184.73,215.17L184.73,215.60M185.06,215.95L188.30,215.95M183.69,215.38L184.73,215.38M183.69,215.95L185.06,215.95M183.69,215.38L183.69,215.95M180.70,214.43L182.79,214.43M180.70,215.67L183.69,215.67M180.70,214.43L180.70,215.67M184.04,216.38L188.30,216.38M183.92,216.70L188.30,216.70M182.38,216.38L184.04,216.38M182.38,216.70L183.92,216.70M182.38,216.38L182.38,216.70M182.33,216.96L188.30,216.96M180.40,216.54L182.38,216.54M180.40,216.96L182.33,216.96M180.40,216.54L180.40,216.96M177.87,215.05L180.70,215.05M177.87,216.75L180.40,216.75M177.87,215.05L177.87,216.75M183.02,217.32L188.30,217.32M184.56,217.76L188.30,217.76M185.66,218.15L188.30,218.15M183.91,217.76L184.56,217.76M183.91,218.15L185.66,218.15M183.91,217.76L183.91,218.15M181.89,217.32L183.02,217.32M181.89,217.95L183.91,217.95M181.89,217.32L181.89,217.95M182.61,218.52L188.30,218.52M184.18,218.94L188.30,218.94M184.57,219.34L188.30,219.34M182.47,218.94L184.18,218.94M182.47,219.34L184.57,219.34M182.47,218.94L182.47,219.34M181.47,218.52L182.61,218.52M181.47,219.14L182.47,219.14M181.47,218.52L181.47,219.14M178.70,217.64L181.89,217.64M178.70,218.83L181.47,218.83M178.70,217.64L178.70,218.83M183.96,219.66L188.30,219.66M182.88,219.99L188.30,219.99M181.90,219.66L183.96,219.66M181.90,219.99L182.88,219.99M181.90,219.66L181.90,219.99M183.45,220.40L188.30,220.40M183.89,220.69L188.30,220.69M182.13,220.40L183.45,220.40M182.13,220.69L183.89,220.69M182.13,220.40L182.13,220.69M180.39,219.82L181.90,219.82M180.39,220.55L182.13,220.55M180.39,219.82L180.39,220.55M185.31,220.93L188.30,220.93M184.14,221.20L188.30,221.20M183.37,220.93L185.31,220.93M183.37,221.20L184.14,221.20M183.37,220.93L183.37,221.20M183.84,221.48L188.30,221.48M182.45,221.06L183.37,221.06M182.45,221.48L183.84,221.48M182.45,221.06L182.45,221.48M182.55,221.82L188.30,221.82M180.99,221.27L182.45,221.27M180.99,221.82L182.55,221.82M180.99,221.27L180.99,221.82M185.73,222.11L188.30,222.11M184.99,222.38L188.30,222.38M184.13,222.11L185.73,222.11M184.13,222.38L184.99,222.38M184.13,222.11L184.13,222.38M184.08,222.79L188.30,222.79M182.05,222.25L184.13,222.25M182.05,222.79L184.08,222.79M182.05,222.25L182.05,222.79M178.47,221.55L180.99,221.55M178.47,222.52L182.05,222.52M178.47,221.55L178.47,222.52M176.74,220.18L180.39,220.18M176.74,222.03L178.47,222.03M176.74,220.18L176.74,222.03M168.42,218.23L178.70,218.23M168.42,221.11L176.74,221.11M168.42,218.23L168.42,221.11M166.60,215.90L177.87,215.90M166.60,219.67L168.42,219.67M166.60,215.90L166.60,219.67M166.60,217.40L166.60,217.78" fill="none" stroke="#111" stroke-width="0.55"/>
<rect x="185.5" y="83" width="2.9" height="140" fill="#111"/>
<g fill="#a87a0c"><circle cx="183.45" cy="83.43" r="0.65"/><circle cx="185.07" cy="84.26" r="0.65"/><circle cx="186.37" cy="85.30" r="0.65"/><circle cx="185.40" cy="85.08" r="0.65"/><circle cx="184.32" cy="84.67" r="0.65"/><circle cx="181.83" cy="84.05" r="0.65"/><circle cx="183.25" cy="85.99" r="0.65"/><circle cx="183.04" cy="86.62" r="0.65"/><circle cx="182.32" cy="86.30" r="0.65"/><circle cx="178.69" cy="85.18" r="0.65"/><circle cx="185.64" cy="87.11" r="0.65"/><circle cx="184.08" cy="87.33" r="0.65"/><circle cx="185.67" cy="88.67" r="0.65"/><circle cx="184.95" cy="88.45" r="0.65"/><circle cx="183.59" cy="88.17" r="0.65"/><circle cx="181.45" cy="87.75" r="0.65"/><circle cx="183.87" cy="89.66" r="0.65"/><circle cx="181.81" cy="89.44" r="0.65"/><circle cx="178.90" cy="88.59" r="0.65"/><circle cx="172.00" cy="86.89" r="0.65"/><circle cx="185.64" cy="90.34" r="0.65"/><circle cx="183.98" cy="90.62" r="0.65"/><circle cx="183.07" cy="90.97" r="0.65"/><circle cx="186.23" cy="92.14" r="0.65"/><circle cx="185.38" cy="91.92" r="0.65"/><circle cx="184.95" cy="92.25" r="0.65"/><circle cx="186.12" cy="93.67" r="0.65"/><circle cx="185.70" cy="93.35" r="0.65"/><circle cx="186.40" cy="94.76" r="0.65"/><circle cx="185.70" cy="94.49" r="0.65"/><circle cx="185.01" cy="93.92" r="0.65"/><circle cx="183.30" cy="93.09" r="0.65"/><circle cx="182.27" cy="92.03" r="0.65"/><circle cx="185.55" cy="95.49" r="0.65"/><circle cx="186.30" cy="96.04" r="0.65"/><circle cx="185.94" cy="96.26" r="0.65"/><circle cx="185.60" cy="96.92" r="0.65"/><circle cx="184.46" cy="96.59" r="0.65"/><circle cx="183.89" cy="96.04" r="0.65"/><circle cx="184.94" cy="97.65" r="0.65"/><circle cx="183.84" cy="97.93" r="0.65"/><circle cx="182.44" cy="96.99" r="0.65"/><circle cx="180.14" cy="94.51" r="0.65"/><circle cx="184.89" cy="99.02" r="0.65"/><circle cx="182.95" cy="98.80" r="0.65"/><circle cx="184.26" cy="99.54" r="0.65"/><circle cx="182.47" cy="99.77" r="0.65"/><circle cx="181.49" cy="99.29" r="0.65"/><circle cx="180.45" cy="100.59" r="0.65"/><circle cx="177.15" cy="99.94" r="0.65"/><circle cx="182.75" cy="101.29" r="0.65"/><circle cx="183.70" cy="101.99" r="0.65"/><circle cx="181.97" cy="101.64" r="0.65"/><circle cx="183.27" cy="102.68" r="0.65"/><circle cx="184.98" cy="103.39" r="0.65"/><circle cx="183.46" cy="103.61" r="0.65"/><circle cx="181.12" cy="103.14" r="0.65"/><circle cx="178.01" cy="102.39" r="0.65"/><circle cx="175.01" cy="101.16" r="0.65"/><circle cx="173.90" cy="97.84" r="0.65"/><circle cx="186.01" cy="104.31" r="0.65"/><circle cx="185.68" cy="104.59" r="0.65"/><circle cx="186.35" cy="105.34" r="0.65"/><circle cx="185.52" cy="105.57" r="0.65"/><circle cx="184.35" cy="105.08" r="0.65"/><circle cx="184.86" cy="106.26" r="0.65"/><circle cx="185.75" cy="106.83" r="0.65"/><circle cx="185.72" cy="107.41" r="0.65"/><circle cx="184.70" cy="107.12" r="0.65"/><circle cx="183.95" cy="106.69" r="0.65"/><circle cx="182.60" cy="105.88" r="0.65"/><circle cx="185.80" cy="108.32" r="0.65"/><circle cx="185.37" cy="108.09" r="0.65"/><circle cx="186.70" cy="108.92" r="0.65"/><circle cx="186.01" cy="109.24" r="0.65"/><circle cx="185.62" cy="110.08" r="0.65"/><circle cx="184.78" cy="109.66" r="0.65"/><circle cx="183.77" cy="108.88" r="0.65"/><circle cx="181.45" cy="107.38" r="0.65"/><circle cx="186.37" cy="110.95" r="0.65"/><circle cx="185.24" cy="110.71" r="0.65"/><circle cx="187.16" cy="111.53" r="0.65"/><circle cx="186.48" cy="111.74" r="0.65"/><circle cx="186.47" cy="112.33" r="0.65"/><circle cx="186.90" cy="112.83" r="0.65"/><circle cx="185.98" cy="112.58" r="0.65"/><circle cx="185.30" cy="112.16" r="0.65"/><circle cx="184.06" cy="111.43" r="0.65"/><circle cx="186.22" cy="113.96" r="0.65"/><circle cx="185.16" cy="114.24" r="0.65"/><circle cx="184.39" cy="113.82" r="0.65"/><circle cx="185.58" cy="115.17" r="0.65"/><circle cx="186.02" cy="116.43" r="0.65"/><circle cx="185.43" cy="116.11" r="0.65"/><circle cx="184.46" cy="115.64" r="0.65"/><circle cx="182.38" cy="114.73" r="0.65"/><circle cx="181.57" cy="113.08" r="0.65"/><circle cx="177.35" cy="110.23" r="0.65"/><circle cx="186.93" cy="117.20" r="0.65"/><circle cx="186.36" cy="117.44" r="0.65"/><circle cx="186.46" cy="118.31" r="0.65"/><circle cx="185.74" cy="117.88" r="0.65"/><circle cx="185.65" cy="118.93" r="0.65"/><circle cx="185.22" cy="119.15" r="0.65"/><circle cx="184.79" cy="118.52" r="0.65"/><circle cx="187.37" cy="119.85" r="0.65"/><circle cx="187.19" cy="120.14" r="0.65"/><circle cx="187.17" cy="121.49" r="0.65"/><circle cx="186.77" cy="120.81" r="0.65"/><circle cx="187.45" cy="122.96" r="0.65"/><circle cx="187.05" cy="123.21" r="0.65"/><circle cx="186.25" cy="122.74" r="0.65"/><circle cx="185.85" cy="121.78" r="0.65"/><circle cx="183.63" cy="120.15" r="0.65"/><circle cx="186.32" cy="123.98" r="0.65"/><circle cx="186.14" cy="124.60" r="0.65"/><circle cx="185.71" cy="124.29" r="0.65"/><circle cx="186.44" cy="125.57" r="0.65"/><circle cx="185.96" cy="125.33" r="0.65"/><circle cx="186.09" cy="126.27" r="0.65"/><circle cx="184.81" cy="125.80" r="0.65"/><circle cx="184.14" cy="125.05" r="0.65"/><circle cx="184.68" cy="127.03" r="0.65"/><circle cx="185.22" cy="127.93" r="0.65"/><circle cx="184.50" cy="127.68" r="0.65"/><circle cx="183.15" cy="127.35" r="0.65"/><circle cx="182.19" cy="126.20" r="0.65"/><circle cx="181.09" cy="123.17" r="0.65"/><circle cx="185.67" cy="128.40" r="0.65"/><circle cx="185.88" cy="129.09" r="0.65"/><circle cx="185.06" cy="129.33" r="0.65"/><circle cx="184.50" cy="128.87" r="0.65"/><circle cx="185.04" cy="130.22" r="0.65"/><circle cx="187.01" cy="131.43" r="0.65"/><circle cx="186.65" cy="131.14" r="0.65"/><circle cx="186.75" cy="132.14" r="0.65"/><circle cx="185.91" cy="131.64" r="0.65"/><circle cx="184.41" cy="130.93" r="0.65"/><circle cx="182.72" cy="129.90" r="0.65"/><circle cx="187.20" cy="133.17" r="0.65"/><circle cx="187.03" cy="132.93" r="0.65"/><circle cx="187.12" cy="133.95" r="0.65"/><circle cx="186.54" cy="133.44" r="0.65"/><circle cx="187.35" cy="134.62" r="0.65"/><circle cx="187.22" cy="135.18" r="0.65"/><circle cx="187.03" cy="134.90" r="0.65"/><circle cx="187.11" cy="136.23" r="0.65"/><circle cx="186.88" cy="135.96" r="0.65"/><circle cx="186.28" cy="135.43" r="0.65"/><circle cx="185.56" cy="134.43" r="0.65"/><circle cx="187.03" cy="136.84" r="0.65"/><circle cx="186.45" cy="137.03" r="0.65"/><circle cx="186.76" cy="137.57" r="0.65"/><circle cx="186.45" cy="137.83" r="0.65"/><circle cx="186.70" cy="138.63" r="0.65"/><circle cx="185.98" cy="138.23" r="0.65"/><circle cx="185.32" cy="137.63" r="0.65"/><circle cx="183.75" cy="136.03" r="0.65"/><circle cx="180.67" cy="132.97" r="0.65"/><circle cx="178.21" cy="128.07" r="0.65"/><circle cx="169.20" cy="119.15" r="1.0"/><circle cx="164.60" cy="109.40" r="1.0"/><circle cx="183.27" cy="139.42" r="0.65"/><circle cx="185.33" cy="140.58" r="0.65"/><circle cx="183.82" cy="140.28" r="0.65"/><circle cx="181.03" cy="139.85" r="0.65"/><circle cx="184.18" cy="141.66" r="0.65"/><circle cx="181.74" cy="141.42" r="0.65"/><circle cx="179.37" cy="141.80" r="0.65"/><circle cx="177.59" cy="140.83" r="0.65"/><circle cx="178.29" cy="142.67" r="0.65"/><circle cx="180.43" cy="143.40" r="0.65"/><circle cx="178.82" cy="143.72" r="0.65"/><circle cx="175.92" cy="143.19" r="0.65"/><circle cx="181.64" cy="144.58" r="0.65"/><circle cx="178.96" cy="144.89" r="0.65"/><circle cx="182.54" cy="145.82" r="0.65"/><circle cx="182.10" cy="146.57" r="0.65"/><circle cx="180.29" cy="146.19" r="0.65"/><circle cx="177.31" cy="145.54" r="0.65"/><circle cx="166.10" cy="144.37" r="1.0"/><circle cx="161.60" cy="142.60" r="1.0"/><circle cx="151.50" cy="125.90" r="1.0"/><circle cx="140.50" cy="104.20" r="1.0"/><circle cx="181.38" cy="147.36" r="0.65"/><circle cx="182.49" cy="148.10" r="0.65"/><circle cx="183.83" cy="148.65" r="0.65"/><circle cx="183.15" cy="148.90" r="0.65"/><circle cx="181.52" cy="148.50" r="0.65"/><circle cx="177.87" cy="147.93" r="0.65"/><circle cx="184.81" cy="149.64" r="0.65"/><circle cx="183.44" cy="149.85" r="0.65"/><circle cx="182.92" cy="150.68" r="0.65"/><circle cx="180.58" cy="150.26" r="0.65"/><circle cx="184.23" cy="151.89" r="0.65"/><circle cx="183.26" cy="151.57" r="0.65"/><circle cx="182.79" cy="152.67" r="0.65"/><circle cx="181.77" cy="152.12" r="0.65"/><circle cx="178.55" cy="151.19" r="0.65"/><circle cx="176.00" cy="149.56" r="0.65"/><circle cx="185.58" cy="153.29" r="0.65"/><circle cx="186.07" cy="153.84" r="0.65"/><circle cx="185.03" cy="153.57" r="0.65"/><circle cx="184.18" cy="154.51" r="0.65"/><circle cx="183.47" cy="154.04" r="0.65"/><circle cx="186.97" cy="155.23" r="0.65"/><circle cx="186.56" cy="155.46" r="0.65"/><circle cx="185.86" cy="155.78" r="0.65"/><circle cx="185.41" cy="156.81" r="0.65"/><circle cx="184.35" cy="156.29" r="0.65"/><circle cx="182.79" cy="155.16" r="0.65"/><circle cx="185.51" cy="157.61" r="0.65"/><circle cx="185.41" cy="158.25" r="0.65"/><circle cx="184.73" cy="157.93" r="0.65"/><circle cx="186.02" cy="158.97" r="0.65"/><circle cx="185.23" cy="159.30" r="0.65"/><circle cx="183.72" cy="158.61" r="0.65"/><circle cx="186.69" cy="160.11" r="0.65"/><circle cx="186.40" cy="160.72" r="0.65"/><circle cx="185.84" cy="160.41" r="0.65"/><circle cx="187.10" cy="161.80" r="0.65"/><circle cx="186.95" cy="162.30" r="0.65"/><circle cx="186.54" cy="162.05" r="0.65"/><circle cx="186.02" cy="161.65" r="0.65"/><circle cx="184.73" cy="161.03" r="0.65"/><circle cx="186.09" cy="163.00" r="0.65"/><circle cx="186.27" cy="163.62" r="0.65"/><circle cx="185.46" cy="163.31" r="0.65"/><circle cx="183.97" cy="162.17" r="0.65"/><circle cx="182.60" cy="160.39" r="0.65"/><circle cx="180.56" cy="157.78" r="0.65"/><circle cx="184.78" cy="164.36" r="0.65"/><circle cx="185.56" cy="165.03" r="0.65"/><circle cx="184.20" cy="164.69" r="0.65"/><circle cx="184.75" cy="165.63" r="0.65"/><circle cx="183.94" cy="165.88" r="0.65"/><circle cx="184.40" cy="166.70" r="0.65"/><circle cx="182.99" cy="166.29" r="0.65"/><circle cx="181.69" cy="165.49" r="0.65"/><circle cx="184.72" cy="167.58" r="0.65"/><circle cx="185.93" cy="168.30" r="0.65"/><circle cx="185.41" cy="168.57" r="0.65"/><circle cx="184.09" cy="168.07" r="0.65"/><circle cx="185.13" cy="169.64" r="0.65"/><circle cx="183.53" cy="169.41" r="0.65"/><circle cx="181.56" cy="168.74" r="0.65"/><circle cx="178.39" cy="167.12" r="0.65"/><circle cx="173.46" cy="162.45" r="0.65"/><circle cx="186.73" cy="170.31" r="0.65"/><circle cx="186.74" cy="170.92" r="0.65"/><circle cx="186.41" cy="170.61" r="0.65"/><circle cx="187.31" cy="172.11" r="0.65"/><circle cx="187.48" cy="173.49" r="0.65"/><circle cx="187.02" cy="173.25" r="0.65"/><circle cx="186.69" cy="172.68" r="0.65"/><circle cx="186.07" cy="171.65" r="0.65"/><circle cx="186.10" cy="174.14" r="0.65"/><circle cx="186.57" cy="174.71" r="0.65"/><circle cx="185.71" cy="174.42" r="0.65"/><circle cx="187.03" cy="175.69" r="0.65"/><circle cx="186.75" cy="175.42" r="0.65"/><circle cx="186.45" cy="176.37" r="0.65"/><circle cx="186.14" cy="176.59" r="0.65"/><circle cx="185.76" cy="176.01" r="0.65"/><circle cx="185.27" cy="175.22" r="0.65"/><circle cx="184.64" cy="173.43" r="0.65"/><circle cx="186.98" cy="177.62" r="0.65"/><circle cx="186.35" cy="177.40" r="0.65"/><circle cx="187.08" cy="178.66" r="0.65"/><circle cx="186.34" cy="178.42" r="0.65"/><circle cx="185.11" cy="177.91" r="0.65"/><circle cx="187.10" cy="179.63" r="0.65"/><circle cx="186.43" cy="179.39" r="0.65"/><circle cx="186.26" cy="180.22" r="0.65"/><circle cx="185.46" cy="179.80" r="0.65"/><circle cx="184.18" cy="178.86" r="0.65"/><circle cx="183.16" cy="176.14" r="0.65"/><circle cx="186.52" cy="180.92" r="0.65"/><circle cx="187.30" cy="181.77" r="0.65"/><circle cx="186.65" cy="181.57" r="0.65"/><circle cx="186.26" cy="181.25" r="0.65"/><circle cx="187.24" cy="182.66" r="0.65"/><circle cx="186.76" cy="182.45" r="0.65"/><circle cx="185.98" cy="181.85" r="0.65"/><circle cx="186.69" cy="183.32" r="0.65"/><circle cx="186.18" cy="183.57" r="0.65"/><circle cx="185.58" cy="182.71" r="0.65"/><circle cx="187.06" cy="185.33" r="0.65"/><circle cx="186.39" cy="185.05" r="0.65"/><circle cx="185.42" cy="184.66" r="0.65"/><circle cx="184.57" cy="183.69" r="0.65"/><circle cx="187.23" cy="185.96" r="0.65"/><circle cx="187.31" cy="186.62" r="0.65"/><circle cx="187.41" cy="187.07" r="0.65"/><circle cx="187.15" cy="186.85" r="0.65"/><circle cx="186.86" cy="186.41" r="0.65"/><circle cx="186.96" cy="187.83" r="0.65"/><circle cx="186.55" cy="187.12" r="0.65"/><circle cx="187.44" cy="188.70" r="0.65"/><circle cx="187.08" cy="189.64" r="0.65"/><circle cx="186.90" cy="189.17" r="0.65"/><circle cx="186.00" cy="188.14" r="0.65"/><circle cx="186.62" cy="190.21" r="0.65"/><circle cx="186.34" cy="190.46" r="0.65"/><circle cx="187.36" cy="191.55" r="0.65"/><circle cx="187.14" cy="191.32" r="0.65"/><circle cx="187.31" cy="192.28" r="0.65"/><circle cx="186.68" cy="191.80" r="0.65"/><circle cx="185.63" cy="191.13" r="0.65"/><circle cx="185.12" cy="189.64" r="0.65"/><circle cx="183.43" cy="186.66" r="0.65"/><circle cx="181.04" cy="181.40" r="0.65"/><circle cx="186.74" cy="193.45" r="0.65"/><circle cx="185.79" cy="193.21" r="0.65"/><circle cx="186.89" cy="194.09" r="0.65"/><circle cx="186.01" cy="194.42" r="0.65"/><circle cx="185.43" cy="193.81" r="0.65"/><circle cx="186.38" cy="195.31" r="0.65"/><circle cx="187.05" cy="195.93" r="0.65"/><circle cx="187.19" cy="196.72" r="0.65"/><circle cx="186.58" cy="196.33" r="0.65"/><circle cx="185.75" cy="195.82" r="0.65"/><circle cx="184.99" cy="194.82" r="0.65"/><circle cx="184.83" cy="197.91" r="0.65"/><circle cx="184.00" cy="197.63" r="0.65"/><circle cx="186.23" cy="199.03" r="0.65"/><circle cx="185.74" cy="198.79" r="0.65"/><circle cx="186.63" cy="199.91" r="0.65"/><circle cx="185.99" cy="199.70" r="0.65"/><circle cx="185.96" cy="200.56" r="0.65"/><circle cx="185.52" cy="200.13" r="0.65"/><circle cx="184.36" cy="199.46" r="0.65"/><circle cx="183.27" cy="198.54" r="0.65"/><circle cx="182.48" cy="196.68" r="0.65"/><circle cx="185.88" cy="201.10" r="0.65"/><circle cx="185.47" cy="201.36" r="0.65"/><circle cx="184.96" cy="201.72" r="0.65"/><circle cx="184.99" cy="202.75" r="0.65"/><circle cx="185.60" cy="203.30" r="0.65"/><circle cx="184.45" cy="203.03" r="0.65"/><circle cx="183.59" cy="202.37" r="0.65"/><circle cx="185.98" cy="203.91" r="0.65"/><circle cx="186.03" cy="204.61" r="0.65"/><circle cx="185.53" cy="204.26" r="0.65"/><circle cx="186.65" cy="205.71" r="0.65"/><circle cx="185.93" cy="205.49" r="0.65"/><circle cx="184.53" cy="204.88" r="0.65"/><circle cx="182.74" cy="203.62" r="0.65"/><circle cx="180.20" cy="200.15" r="0.65"/><circle cx="175.14" cy="190.78" r="0.65"/><circle cx="171.50" cy="176.61" r="0.65"/><circle cx="164.60" cy="164.80" r="1.0"/><circle cx="182.22" cy="206.44" r="0.65"/><circle cx="181.62" cy="207.10" r="0.65"/><circle cx="179.54" cy="206.77" r="0.65"/><circle cx="184.58" cy="207.83" r="0.65"/><circle cx="182.23" cy="208.07" r="0.65"/><circle cx="183.00" cy="208.81" r="0.65"/><circle cx="180.76" cy="208.44" r="0.65"/><circle cx="176.30" cy="207.60" r="0.65"/><circle cx="182.28" cy="209.83" r="0.65"/><circle cx="179.41" cy="210.10" r="0.65"/><circle cx="176.79" cy="209.70" r="0.65"/><circle cx="173.56" cy="208.65" r="0.65"/><circle cx="182.27" cy="210.91" r="0.65"/><circle cx="181.31" cy="211.21" r="0.65"/><circle cx="183.55" cy="212.07" r="0.65"/><circle cx="183.23" cy="212.82" r="0.65"/><circle cx="182.49" cy="212.44" r="0.65"/><circle cx="181.60" cy="213.60" r="0.65"/><circle cx="180.43" cy="213.02" r="0.65"/><circle cx="178.01" cy="212.12" r="0.65"/><circle cx="168.60" cy="210.39" r="1.0"/><circle cx="182.79" cy="214.43" r="0.65"/><circle cx="185.49" cy="215.17" r="0.65"/><circle cx="184.73" cy="215.38" r="0.65"/><circle cx="183.69" cy="215.67" r="0.65"/><circle cx="180.70" cy="215.05" r="0.65"/><circle cx="182.38" cy="216.54" r="0.65"/><circle cx="180.40" cy="216.75" r="0.65"/><circle cx="177.87" cy="215.90" r="0.65"/><circle cx="183.91" cy="217.95" r="0.65"/><circle cx="181.89" cy="217.64" r="0.65"/><circle cx="182.47" cy="219.14" r="0.65"/><circle cx="181.47" cy="218.83" r="0.65"/><circle cx="178.70" cy="218.23" r="0.65"/><circle cx="181.90" cy="219.82" r="0.65"/><circle cx="182.13" cy="220.55" r="0.65"/><circle cx="180.39" cy="220.18" r="0.65"/><circle cx="183.37" cy="221.06" r="0.65"/><circle cx="182.45" cy="221.27" r="0.65"/><circle cx="180.99" cy="221.55" r="0.65"/><circle cx="184.13" cy="222.25" r="0.65"/><circle cx="182.05" cy="222.52" r="0.65"/><circle cx="178.47" cy="222.03" r="0.65"/><circle cx="176.74" cy="221.11" r="0.65"/><circle cx="168.42" cy="219.67" r="1.0"/><circle cx="166.60" cy="217.78" r="1.0"/><circle cx="145.80" cy="214.00" r="1.0"/><circle cx="126.70" cy="189.80" r="1.0"/><circle cx="109.70" cy="147.00" r="1.0"/></g>
<rect x="450.4" y="341.30" width="7.5" height="7.6" fill="#e41a1c"/>
<text transform="translate(459.6 348.15) scale(0.947 1)" font-family="Liberation Sans, Arial, sans-serif" font-size="9.6" fill="#000" stroke="#000" stroke-width="0.22">Metabolism of RNA</text>
<rect x="450.4" y="352.68" width="7.5" height="7.6" fill="#377eb8"/>
<text transform="translate(459.6 359.53) scale(0.947 1)" font-family="Liberation Sans, Arial, sans-serif" font-size="9.6" fill="#000" stroke="#000" stroke-width="0.22">Membrane Trafficking</text>
<rect x="450.4" y="364.06" width="7.5" height="7.6" fill="#4daf4a"/>
<text transform="translate(459.6 370.91) scale(0.947 1)" font-family="Liberation Sans, Arial, sans-serif" font-size="9.6" fill="#000" stroke="#000" stroke-width="0.22">cellular protein catabolic process</text>
<rect x="450.4" y="375.44" width="7.5" height="7.6" fill="#984ea3"/>
<text transform="translate(459.6 382.29) scale(0.947 1)" font-family="Liberation Sans, Arial, sans-serif" font-size="9.6" fill="#000" stroke="#000" stroke-width="0.22">ribonucleoprotein complex biogenesis</text>
<rect x="450.4" y="386.82" width="7.5" height="7.6" fill="#ff7f00"/>
<text transform="translate(459.6 393.67) scale(0.947 1)" font-family="Liberation Sans, Arial, sans-serif" font-size="9.6" fill="#000" stroke="#000" stroke-width="0.22">neutrophil degranulation</text>
<rect x="450.4" y="398.20" width="7.5" height="7.6" fill="#ffff33"/>
<text transform="translate(459.6 405.05) scale(0.947 1)" font-family="Liberation Sans, Arial, sans-serif" font-size="9.6" fill="#000" stroke="#000" stroke-width="0.22">VEGFA-VEGFR2 Signaling Pathway</text>
<rect x="450.4" y="409.58" width="7.5" height="7.6" fill="#a65628"/>
<text transform="translate(459.6 416.43) scale(0.947 1)" font-family="Liberation Sans, Arial, sans-serif" font-size="9.6" fill="#000" stroke="#000" stroke-width="0.22">RNA splicing</text>
<rect x="450.4" y="420.96" width="7.5" height="7.6" fill="#f781bf"/>
<text transform="translate(459.6 427.81) scale(0.947 1)" font-family="Liberation Sans, Arial, sans-serif" font-size="9.6" fill="#000" stroke="#000" stroke-width="0.22">regulation of cellular amide metabolic process</text>
<rect x="450.4" y="432.34" width="7.5" height="7.6" fill="#999999"/>
<text transform="translate(459.6 439.19) scale(0.947 1)" font-family="Liberation Sans, Arial, sans-serif" font-size="9.6" fill="#000" stroke="#000" stroke-width="0.22">nucleocytoplasmic transport</text>
<rect x="450.4" y="443.72" width="7.5" height="7.6" fill="#8dd3c7"/>
<text transform="translate(459.6 450.57) scale(0.947 1)" font-family="Liberation Sans, Arial, sans-serif" font-size="9.6" fill="#000" stroke="#000" stroke-width="0.22">Protein processing in endoplasmic reticulum</text>
<rect x="450.4" y="455.10" width="7.5" height="7.6" fill="#ffffb3"/>
<text transform="translate(459.6 461.95) scale(0.947 1)" font-family="Liberation Sans, Arial, sans-serif" font-size="9.6" fill="#000" stroke="#000" stroke-width="0.22">apoptotic signaling pathway</text>
<rect x="450.4" y="466.48" width="7.5" height="7.6" fill="#bebada"/>
<text transform="translate(459.6 473.33) scale(0.947 1)" font-family="Liberation Sans, Arial, sans-serif" font-size="9.6" fill="#000" stroke="#000" stroke-width="0.22">positive regulation of organelle organization</text>
<rect x="450.4" y="477.86" width="7.5" height="7.6" fill="#fb8072"/>
<text transform="translate(459.6 484.71) scale(0.947 1)" font-family="Liberation Sans, Arial, sans-serif" font-size="9.6" fill="#000" stroke="#000" stroke-width="0.22">mitochondrion organization</text>
<rect x="450.4" y="489.24" width="7.5" height="7.6" fill="#80b1d3"/>
<text transform="translate(459.6 496.09) scale(0.947 1)" font-family="Liberation Sans, Arial, sans-serif" font-size="9.6" fill="#000" stroke="#000" stroke-width="0.22">regulation of protein catabolic process</text>
<rect x="450.4" y="500.62" width="7.5" height="7.6" fill="#fdb462"/>
<text transform="translate(459.6 507.47) scale(0.947 1)" font-family="Liberation Sans, Arial, sans-serif" font-size="9.6" fill="#000" stroke="#000" stroke-width="0.22">Transcriptional Regulation by TP53</text>
<rect x="450.4" y="512.00" width="7.5" height="7.6" fill="#b3de69"/>
<text transform="translate(459.6 518.85) scale(0.947 1)" font-family="Liberation Sans, Arial, sans-serif" font-size="9.6" fill="#000" stroke="#000" stroke-width="0.22">purine ribonucleoside monophosphate metabolic process</text>
<rect x="450.4" y="523.38" width="7.5" height="7.6" fill="#fccde5"/>
<text transform="translate(459.6 530.23) scale(0.947 1)" font-family="Liberation Sans, Arial, sans-serif" font-size="9.6" fill="#000" stroke="#000" stroke-width="0.22">regulation of cellular protein localization</text>
<rect x="450.4" y="534.76" width="7.5" height="7.6" fill="#d9d9d9"/>
<text transform="translate(459.6 541.61) scale(0.947 1)" font-family="Liberation Sans, Arial, sans-serif" font-size="9.6" fill="#000" stroke="#000" stroke-width="0.22">HIV Infection</text>
<rect x="450.4" y="546.14" width="7.5" height="7.6" fill="#bc80bd"/>
<text transform="translate(459.6 552.99) scale(0.947 1)" font-family="Liberation Sans, Arial, sans-serif" font-size="9.6" fill="#000" stroke="#000" stroke-width="0.22">Cytokine Signaling in Immune system</text>
<rect x="450.4" y="557.52" width="7.5" height="7.6" fill="#ccebc5"/>
<text transform="translate(459.6 564.37) scale(0.947 1)" font-family="Liberation Sans, Arial, sans-serif" font-size="9.6" fill="#000" stroke="#000" stroke-width="0.22">PID ERBB1 DOWNSTREAM PATHWAY</text>
<rect x="35.2" y="639.3" width="311.6" height="318.1" fill="none" stroke="#222" stroke-width="1"/>
<line x1="46.42" y1="639.8" x2="46.42" y2="957" stroke="#b0b0b0" stroke-width="1.5"/>
<line x1="57.64" y1="639.8" x2="57.64" y2="957" stroke="#b0b0b0" stroke-width="1.5"/>
<line x1="68.86" y1="639.8" x2="68.86" y2="957" stroke="#b0b0b0" stroke-width="1.5"/>
<line x1="91.30" y1="639.8" x2="91.30" y2="957" stroke="#b0b0b0" stroke-width="1.5"/>
<line x1="147.40" y1="639.8" x2="147.40" y2="957" stroke="#b0b0b0" stroke-width="1.5"/>
<rect x="35.70" y="648.60" width="296.27" height="12.2" fill="#993404" stroke="#666" stroke-width="1.1"/>
<rect x="35.70" y="663.75" width="139.47" height="12.2" fill="#993404" stroke="#666" stroke-width="1.1"/>
<rect x="35.70" y="678.90" width="134.42" height="12.2" fill="#993404" stroke="#666" stroke-width="1.1"/>
<rect x="35.70" y="694.05" width="131.62" height="12.2" fill="#993404" stroke="#666" stroke-width="1.1"/>
<rect x="35.70" y="709.20" width="125.73" height="12.2" fill="#993404" stroke="#666" stroke-width="1.1"/>
<rect x="35.70" y="724.35" width="105.25" height="12.2" fill="#d95f0e" stroke="#666" stroke-width="1.1"/>
<rect x="35.70" y="739.50" width="100.76" height="12.2" fill="#d95f0e" stroke="#666" stroke-width="1.1"/>
<rect x="35.70" y="754.65" width="92.63" height="12.2" fill="#d95f0e" stroke="#666" stroke-width="1.1"/>
<rect x="35.70" y="769.80" width="92.35" height="12.2" fill="#d95f0e" stroke="#666" stroke-width="1.1"/>
<rect x="35.70" y="784.95" width="92.07" height="12.2" fill="#d95f0e" stroke="#666" stroke-width="1.1"/>
<rect x="35.70" y="800.10" width="91.22" height="12.2" fill="#d95f0e" stroke="#666" stroke-width="1.1"/>
<rect x="35.70" y="815.25" width="89.26" height="12.2" fill="#d95f0e" stroke="#666" stroke-width="1.1"/>
<rect x="35.70" y="830.40" width="82.25" height="12.2" fill="#d95f0e" stroke="#666" stroke-width="1.1"/>
<rect x="35.70" y="845.55" width="81.41" height="12.2" fill="#d95f0e" stroke="#666" stroke-width="1.1"/>
<rect x="35.70" y="860.70" width="77.48" height="12.2" fill="#d95f0e" stroke="#666" stroke-width="1.1"/>
<rect x="35.70" y="875.85" width="77.48" height="12.2" fill="#d95f0e" stroke="#666" stroke-width="1.1"/>
<rect x="35.70" y="891.00" width="75.52" height="12.2" fill="#d95f0e" stroke="#666" stroke-width="1.1"/>
<rect x="35.70" y="906.15" width="72.99" height="12.2" fill="#d95f0e" stroke="#666" stroke-width="1.1"/>
<rect x="35.70" y="921.30" width="72.71" height="12.2" fill="#d95f0e" stroke="#666" stroke-width="1.1"/>
<rect x="35.70" y="936.45" width="71.87" height="12.2" fill="#d95f0e" stroke="#666" stroke-width="1.1"/>
<line x1="35.20" y1="957.4" x2="35.20" y2="961.2" stroke="#222" stroke-width="0.9"/>
<text x="35.20" y="974" font-family="Liberation Sans, Arial, sans-serif" font-size="10" text-anchor="middle" fill="#111">0</text>
<line x1="91.30" y1="957.4" x2="91.30" y2="961.2" stroke="#222" stroke-width="0.9"/>
<text x="91.30" y="974" font-family="Liberation Sans, Arial, sans-serif" font-size="10" text-anchor="middle" fill="#111">10</text>
<line x1="147.40" y1="957.4" x2="147.40" y2="961.2" stroke="#222" stroke-width="0.9"/>
<text x="147.40" y="974" font-family="Liberation Sans, Arial, sans-serif" font-size="10" text-anchor="middle" fill="#111">20</text>
<line x1="203.50" y1="957.4" x2="203.50" y2="961.2" stroke="#222" stroke-width="0.9"/>
<text x="203.50" y="974" font-family="Liberation Sans, Arial, sans-serif" font-size="10" text-anchor="middle" fill="#111">30</text>
<line x1="259.60" y1="957.4" x2="259.60" y2="961.2" stroke="#222" stroke-width="0.9"/>
<text x="259.60" y="974" font-family="Liberation Sans, Arial, sans-serif" font-size="10" text-anchor="middle" fill="#111">40</text>
<line x1="315.70" y1="957.4" x2="315.70" y2="961.2" stroke="#222" stroke-width="0.9"/>
<text x="315.70" y="974" font-family="Liberation Sans, Arial, sans-serif" font-size="10" text-anchor="middle" fill="#111">50</text>
<text x="159" y="987.2" font-family="Liberation Sans, Arial, sans-serif" font-size="10" fill="#111">-log10(P)</text>
<text transform="translate(371.4 655.90) scale(0.915 1)" font-family="Liberation Sans, Arial, sans-serif" font-size="9.7" fill="#000" stroke="#000" stroke-width="0.2">R-HSA-8953854: Metabolism of RNA</text>
<text transform="translate(371.4 671.23) scale(0.915 1)" font-family="Liberation Sans, Arial, sans-serif" font-size="9.7" fill="#000" stroke="#000" stroke-width="0.2">R-HSA-199991: Membrane Trafficking</text>
<text transform="translate(371.4 686.56) scale(0.915 1)" font-family="Liberation Sans, Arial, sans-serif" font-size="9.7" fill="#000" stroke="#000" stroke-width="0.2">GO:0044257: cellular protein catabolic process</text>
<text transform="translate(371.4 701.89) scale(0.915 1)" font-family="Liberation Sans, Arial, sans-serif" font-size="9.7" fill="#000" stroke="#000" stroke-width="0.2">GO:0022613: ribonucleoprotein complex biogenesis</text>
<text transform="translate(371.4 717.22) scale(0.915 1)" font-family="Liberation Sans, Arial, sans-serif" font-size="9.7" fill="#000" stroke="#000" stroke-width="0.2">GO:0043312: neutrophil degranulation</text>
<text transform="translate(371.4 732.55) scale(0.915 1)" font-family="Liberation Sans, Arial, sans-serif" font-size="9.7" fill="#000" stroke="#000" stroke-width="0.2">WP3888: VEGFA-VEGFR2 Signaling Pathway</text>
<text transform="translate(371.4 747.88) scale(0.915 1)" font-family="Liberation Sans, Arial, sans-serif" font-size="9.7" fill="#000" stroke="#000" stroke-width="0.2">GO:0008380: RNA splicing</text>
<text transform="translate(371.4 763.21) scale(0.915 1)" font-family="Liberation Sans, Arial, sans-serif" font-size="9.7" fill="#000" stroke="#000" stroke-width="0.2">GO:0034248: regulation of cellular amide metabolic process</text>
<text transform="translate(371.4 778.54) scale(0.915 1)" font-family="Liberation Sans, Arial, sans-serif" font-size="9.7" fill="#000" stroke="#000" stroke-width="0.2">GO:0006913: nucleocytoplasmic transport</text>
<text transform="translate(371.4 793.87) scale(0.915 1)" font-family="Liberation Sans, Arial, sans-serif" font-size="9.7" fill="#000" stroke="#000" stroke-width="0.2">ko04141: Protein processing in endoplasmic reticulum</text>
<text transform="translate(371.4 809.20) scale(0.915 1)" font-family="Liberation Sans, Arial, sans-serif" font-size="9.7" fill="#000" stroke="#000" stroke-width="0.2">GO:0097190: apoptotic signaling pathway</text>
<text transform="translate(371.4 824.53) scale(0.915 1)" font-family="Liberation Sans, Arial, sans-serif" font-size="9.7" fill="#000" stroke="#000" stroke-width="0.2">GO:0010638: positive regulation of organelle organization</text>
<text transform="translate(371.4 839.86) scale(0.915 1)" font-family="Liberation Sans, Arial, sans-serif" font-size="9.7" fill="#000" stroke="#000" stroke-width="0.2">GO:0007005: mitochondrion organization</text>
<text transform="translate(371.4 855.19) scale(0.915 1)" font-family="Liberation Sans, Arial, sans-serif" font-size="9.7" fill="#000" stroke="#000" stroke-width="0.2">GO:0042176: regulation of protein catabolic process</text>
<text transform="translate(371.4 870.52) scale(0.915 1)" font-family="Liberation Sans, Arial, sans-serif" font-size="9.7" fill="#000" stroke="#000" stroke-width="0.2">R-HSA-3700989: Transcriptional Regulation by TP53</text>
<text transform="translate(371.4 885.85) scale(0.915 1)" font-family="Liberation Sans, Arial, sans-serif" font-size="9.7" fill="#000" stroke="#000" stroke-width="0.2">GO:0009167: purine ribonucleoside monophosphate metabolic process</text>
<text transform="translate(371.4 901.18) scale(0.915 1)" font-family="Liberation Sans, Arial, sans-serif" font-size="9.7" fill="#000" stroke="#000" stroke-width="0.2">GO:1903827: regulation of cellular protein localization</text>
<text transform="translate(371.4 916.51) scale(0.915 1)" font-family="Liberation Sans, Arial, sans-serif" font-size="9.7" fill="#000" stroke="#000" stroke-width="0.2">R-HSA-162906: HIV Infection</text>
<text transform="translate(371.4 931.84) scale(0.915 1)" font-family="Liberation Sans, Arial, sans-serif" font-size="9.7" fill="#000" stroke="#000" stroke-width="0.2">R-HSA-1280215: Cytokine Signaling in Immune system</text>
<text transform="translate(371.4 947.17) scale(0.915 1)" font-family="Liberation Sans, Arial, sans-serif" font-size="9.7" fill="#000" stroke="#000" stroke-width="0.2">M164: PID ERBB1 DOWNSTREAM PATHWAY</text>
<defs><clipPath id="nc"><rect x="0" y="296.4" width="440" height="320"/></clipPath></defs><g clip-path="url(#nc)">
<path d="M141.9,299.3Q147.9,298.0 154.0,297.4M141.9,299.3Q138.5,304.2 134.8,308.8M141.9,299.3Q145.1,305.2 149.8,310.0M141.9,299.3Q138.0,309.4 136.7,320.2M154.0,297.4Q159.2,299.5 164.0,302.4M154.0,297.4Q152.2,303.8 149.8,310.0M154.0,297.4Q160.8,305.6 166.9,314.3M164.0,302.4Q157.1,306.5 149.8,310.0M164.0,302.4Q165.6,308.3 166.9,314.3M164.0,302.4Q160.5,311.9 156.4,321.2M134.8,308.8Q142.4,308.7 149.8,310.0M134.8,308.8Q135.6,314.5 136.7,320.2M134.8,308.8Q139.2,318.9 145.5,327.9M149.8,310.0Q158.3,312.3 166.9,314.3M149.8,310.0Q142.7,314.4 136.7,320.2M149.8,310.0Q153.0,315.7 156.4,321.2M166.9,314.3Q166.2,324.8 163.3,335.0M136.7,320.2Q146.5,321.5 156.4,321.2M136.7,320.2Q140.6,324.6 145.5,327.9M156.4,321.2Q151.2,324.9 145.5,327.9M156.4,321.2Q160.9,327.6 163.3,335.0M145.5,327.9Q154.4,331.5 163.3,335.0M173.1,561.4Q180.9,560.7 188.6,559.8M173.1,561.4Q172.4,566.4 171.9,571.4M173.1,561.4Q178.8,568.0 186.2,572.6M188.6,559.8Q194.0,563.6 199.8,566.9M188.6,559.8Q179.7,564.8 171.9,571.4M199.8,566.9Q195.1,576.5 187.9,584.5M171.9,571.4Q171.0,577.5 170.2,583.6M171.9,571.4Q179.3,578.7 187.9,584.5M200.5,579.3Q194.5,582.7 187.9,584.5M200.5,579.3Q199.9,586.4 197.4,593.1M170.2,583.6Q179.0,584.7 187.9,584.5M170.2,583.6Q174.3,588.8 179.5,592.9M187.9,584.5Q193.2,588.2 197.4,593.1M133.6,559.5Q127.3,561.3 121.2,563.6M121.2,563.6Q128.6,567.3 135.0,572.6M121.2,563.6Q117.6,568.8 114.8,574.5M145.5,566.2Q140.1,569.1 135.0,572.6M135.0,572.6Q125.0,574.4 114.8,574.5M135.0,572.6Q142.1,575.6 148.6,579.8M114.8,574.5Q121.1,578.3 127.9,581.0M114.8,574.5Q116.2,581.0 117.6,587.4M148.6,579.8Q138.2,579.5 127.9,581.0M127.9,581.0Q134.8,585.2 141.4,589.8M127.9,581.0Q129.0,587.5 129.5,594.0M117.6,587.4Q123.1,591.6 129.5,594.0M141.4,589.8Q135.3,591.6 129.5,594.0M84.8,427.9Q83.6,431.5 82.4,435.0M95.0,426.7Q96.1,432.7 97.4,438.6M95.0,426.7Q88.4,430.4 82.4,435.0M103.8,428.3Q107.8,431.0 112.1,433.1M97.4,438.6Q93.0,441.4 89.5,445.2M97.4,438.6Q98.0,444.3 98.3,450.0M97.4,438.6Q90.1,436.0 82.4,435.0M97.4,438.6Q104.9,436.2 112.1,433.1M89.5,445.2Q86.1,449.1 83.6,453.6M89.5,445.2Q86.4,439.8 82.4,435.0M98.3,450.0Q90.8,451.0 83.6,453.6M98.3,450.0Q103.0,447.0 106.9,442.9M83.6,453.6Q87.1,457.1 91.4,459.5M91.4,459.5Q97.9,459.7 104.3,459.3M112.1,433.1Q109.5,438.0 106.9,442.9M112.1,433.1Q115.3,439.0 119.3,444.5M106.9,442.9Q113.0,444.3 119.3,444.5M106.9,442.9Q109.7,449.8 112.1,456.9M248.6,325.3Q242.5,328.4 236.2,331.2M248.6,325.3Q255.1,327.0 261.0,330.2M236.2,331.2Q235.1,338.3 235.0,345.4M235.0,345.4Q241.8,347.9 249.0,348.3M249.0,348.3Q255.8,345.8 262.7,343.8M261.0,330.2Q262.6,336.9 262.7,343.8M249.0,348.3Q249.5,357.9 248.2,367.5M235.0,345.4Q241.8,356.3 248.2,367.5M262.7,343.8Q256.1,356.0 248.2,367.5M248.2,367.5Q240.2,368.8 233.0,372.3M235.0,345.4Q235.5,359.0 233.0,372.3M80.7,523.8Q79.0,518.5 78.0,513.0M80.7,523.8Q73.6,526.8 66.0,528.0M80.7,523.8Q76.6,528.5 73.0,533.5M89.5,504.0Q87.8,511.8 87.4,519.8M89.5,504.0Q95.4,513.7 99.3,524.3M91.0,535.2Q94.4,529.2 99.3,524.3M63.3,551.2Q58.0,553.9 52.6,556.4M63.3,551.2Q63.1,559.9 63.3,568.6M52.6,556.4Q49.1,563.0 47.4,570.2M52.6,556.4Q58.9,561.7 63.3,568.6M47.4,570.2Q55.2,568.4 63.3,568.6M63.3,568.6Q60.1,571.8 56.4,574.3M47.4,570.2Q52.1,571.8 56.4,574.3M63.3,551.2Q60.7,563.0 56.4,574.3M63.3,568.6Q64.8,574.1 67.1,579.3M52.6,556.4Q57.8,562.7 63.3,568.6M47.4,570.2Q55.3,568.7 63.3,568.6M330.7,400.0Q337.4,400.9 343.8,403.1M330.7,400.0Q330.3,407.3 328.8,414.5M330.7,400.0Q337.4,407.1 342.4,415.5M343.8,403.1Q335.8,408.2 328.8,414.5M343.8,403.1Q343.5,409.3 342.4,415.5M318.1,409.5Q323.4,412.1 328.8,414.5M318.1,409.5Q330.0,413.6 342.4,415.5M318.1,409.5Q319.6,420.8 321.0,432.1M328.8,414.5Q335.6,414.5 342.4,415.5M328.8,414.5Q327.5,419.8 327.6,425.2M342.4,415.5Q334.4,419.4 327.6,425.2M342.4,415.5Q341.6,423.1 340.0,430.5M315.0,421.4Q321.3,423.4 327.6,425.2M349.0,422.6Q338.1,422.3 327.6,425.2M327.6,425.2Q324.3,428.7 321.0,432.1M321.0,432.1Q330.4,430.5 340.0,430.5M333.6,448.3Q330.8,455.7 326.0,462.1M333.6,448.3Q340.5,454.8 349.0,459.0M326.0,462.1Q337.6,461.6 349.0,459.0M326.0,462.1Q333.2,465.3 340.2,469.0M326.0,462.1Q327.6,470.7 329.3,479.3M349.0,459.0Q356.4,467.1 363.8,475.2M340.2,469.0Q335.1,474.5 329.3,479.3M340.2,469.0Q339.8,475.6 341.4,482.1M340.2,469.0Q347.2,476.5 355.0,483.3M355.7,467.9Q360.1,471.2 363.8,475.2M355.7,467.9Q349.7,476.1 341.4,482.1M355.7,467.9Q355.4,475.6 355.0,483.3M363.8,475.2Q352.7,479.1 341.4,482.1M363.8,475.2Q359.0,478.8 355.0,483.3M329.3,479.3Q335.3,481.1 341.4,482.1M329.3,479.3Q334.7,488.4 340.7,497.1M340.6,523.8Q348.1,525.0 355.2,527.9M340.6,523.8Q335.9,530.6 329.8,536.2M340.6,523.8Q342.3,531.7 343.1,539.8M340.6,523.8Q337.3,537.5 332.3,550.8M355.2,527.9Q342.1,530.8 329.8,536.2M355.2,527.9Q357.8,537.3 360.4,546.7M355.2,527.9Q352.1,541.4 350.0,555.0M329.8,536.2Q336.2,539.1 343.1,539.8M329.8,536.2Q340.5,545.0 350.0,555.0M329.8,536.2Q325.5,549.0 321.5,561.9M343.1,539.8Q352.1,542.3 360.4,546.7M343.1,539.8Q345.9,547.7 350.0,555.0M343.1,539.8Q342.8,554.7 339.0,569.2M332.3,550.8Q340.9,553.8 350.0,555.0M332.3,550.8Q326.3,555.8 321.5,561.9M350.0,555.0Q335.5,557.3 321.5,561.9M350.0,555.0Q345.4,562.8 339.0,569.2M321.5,561.9Q330.5,564.9 339.0,569.2M340.7,497.1Q334.5,516.5 329.8,536.2M340.7,497.1Q349.2,511.9 355.2,527.9M340.7,497.1Q336.6,524.0 332.3,550.8M354.3,434.8Q365.2,438.2 376.0,441.9M376.0,441.9Q368.1,446.1 361.7,452.4M376.0,441.9Q377.2,450.5 378.8,459.0M361.7,452.4Q369.9,456.7 378.8,459.0M354.3,434.8Q358.6,443.4 361.7,452.4M376.0,441.9Q363.1,431.4 349.0,422.6M361.7,452.4Q350.6,441.7 340.0,430.5M378.8,459.0Q366.7,462.1 355.7,467.9M376.0,441.9Q355.0,446.5 333.6,448.3M361.7,452.4Q357.9,459.8 355.7,467.9M378.8,459.0Q372.1,467.8 363.8,475.2M354.3,434.8Q365.1,438.5 376.0,441.9M361.7,452.4Q355.3,455.6 349.0,459.0M376.0,441.9Q366.8,455.6 355.7,467.9M388.5,487.7Q383.1,494.1 379.2,501.5M388.5,487.7Q394.1,501.9 398.5,516.5M379.2,501.5Q389.3,508.5 398.5,516.5M388.5,487.7Q398.5,492.1 407.0,499.0M379.2,501.5Q393.0,499.6 407.0,499.0M398.5,516.5Q402.7,507.7 407.0,499.0M355.0,483.3Q371.7,486.3 388.5,487.7M340.7,497.1Q342.4,518.4 343.1,539.8M333.6,448.3Q327.8,439.8 321.0,432.1M286.1,414.3Q310.7,430.2 333.6,448.3M286.1,414.3Q306.3,438.0 326.0,462.1M294.5,411.6Q306.3,410.4 318.1,409.5M119.3,444.5Q164.6,422.4 208.4,397.3M112.1,456.9Q99.8,479.9 89.5,504.0M163.3,335.0Q167.6,345.3 172.8,355.1M163.3,335.0Q186.9,370.8 207.6,408.3M194.0,343.9Q183.6,349.9 172.8,355.1M194.0,343.9Q192.4,358.4 192.3,373.0M212.4,349.6Q200.0,352.9 187.2,354.3M212.4,349.6Q206.3,354.6 200.4,359.8M212.4,349.6Q216.0,355.9 219.4,362.3M212.4,349.6Q203.7,362.4 192.3,373.0M212.4,349.6Q221.4,362.1 233.0,372.3M187.2,354.3Q203.0,359.3 219.4,362.3M187.2,354.3Q181.9,363.2 175.1,370.9M172.8,355.1Q186.5,357.9 200.4,359.8M172.8,355.1Q174.5,362.9 175.1,370.9M172.8,355.1Q182.8,363.7 192.3,373.0M200.4,359.8Q201.4,365.8 202.5,371.7M219.4,362.3Q206.1,368.3 192.3,373.0M219.4,362.3Q211.2,367.4 202.5,371.7M175.1,370.9Q183.7,371.7 192.3,373.0M175.1,370.9Q188.8,371.9 202.5,371.7M192.3,373.0Q197.3,372.0 202.5,371.7M202.5,371.7Q215.3,376.3 227.3,382.9M227.3,382.9Q238.2,375.9 248.2,367.5M227.3,382.9Q229.9,377.4 233.0,372.3M227.3,382.9Q242.7,379.1 257.1,372.3M227.3,382.9Q217.7,389.9 208.4,397.3M227.3,382.9Q231.8,390.3 237.3,397.0M248.2,367.5Q240.7,370.3 233.0,372.3M248.2,367.5Q261.4,367.6 274.5,365.4M248.2,367.5Q253.0,369.3 257.1,372.3M233.0,372.3Q243.8,379.4 253.0,388.4M233.0,372.3Q240.9,386.6 246.2,402.0M281.0,344.5Q277.2,354.8 274.5,365.4M281.0,344.5Q285.9,353.9 292.0,362.5M274.5,365.4Q272.0,378.5 267.3,391.0M292.0,362.5Q288.2,375.4 283.8,388.0M257.1,372.3Q246.3,383.9 237.3,397.0M257.1,372.3Q270.3,380.4 283.8,388.0M253.0,388.4Q268.4,386.8 283.8,388.0M253.0,388.4Q265.0,396.4 275.9,405.9M208.4,397.3Q221.3,406.4 232.6,417.4M237.3,397.0Q249.5,402.3 260.5,410.0M237.3,397.0Q235.3,407.3 232.6,417.4M237.3,397.0Q230.2,409.9 220.7,421.0M246.2,402.0Q254.8,413.6 265.5,423.2M246.2,402.0Q239.6,409.9 232.6,417.4M246.2,402.0Q241.8,417.0 237.4,432.1M286.1,414.3Q273.4,411.6 260.5,410.0M286.1,414.3Q290.4,413.3 294.5,411.6M267.3,391.0Q275.7,390.3 283.8,388.0M283.8,388.0Q287.4,394.1 290.5,400.5M283.8,388.0Q289.7,399.6 294.5,411.6M290.5,400.5Q278.2,412.1 265.5,423.2M275.9,405.9Q272.0,415.4 265.5,423.2M260.5,410.0Q246.6,414.0 232.6,417.4M260.5,410.0Q254.0,421.3 248.8,433.3M294.5,411.6Q279.4,415.8 265.5,423.2M265.5,423.2Q249.2,419.3 232.6,417.4M265.5,423.2Q256.9,427.8 248.8,433.3M265.5,423.2Q259.8,435.6 254.8,448.3M207.6,408.3Q209.5,418.8 208.1,429.3M232.6,417.4Q226.7,419.5 220.7,421.0M232.6,417.4Q235.4,424.6 237.4,432.1M232.6,417.4Q229.4,426.8 227.1,436.4M232.6,417.4Q226.7,430.9 218.3,443.1M232.6,417.4Q234.8,429.2 236.2,441.2M220.7,421.0Q214.4,425.1 208.1,429.3M220.7,421.0Q228.5,427.3 237.4,432.1M220.7,421.0Q223.1,429.0 227.1,436.4M220.7,421.0Q228.1,431.3 236.2,441.2M220.7,421.0Q216.5,434.2 210.0,446.4M220.7,421.0Q234.4,428.0 248.8,433.3M208.1,429.3Q207.9,438.0 210.0,446.4M237.4,432.1Q232.2,434.2 227.1,436.4M237.4,432.1Q237.0,436.7 236.2,441.2M237.4,432.1Q243.1,432.7 248.8,433.3M237.4,432.1Q233.5,442.8 227.4,452.4M237.4,432.1Q244.9,445.3 253.6,457.6M227.1,436.4Q222.2,439.1 218.3,443.1M227.1,436.4Q218.5,441.4 210.0,446.4M227.1,436.4Q234.4,446.9 242.9,456.4M218.3,443.1Q227.4,443.1 236.2,441.2M218.3,443.1Q230.4,453.9 241.0,466.2M218.3,443.1Q207.1,440.5 195.7,441.0M236.2,441.2Q245.4,445.1 254.8,448.3M236.2,441.2Q240.3,448.5 242.9,456.4M236.2,441.2Q245.9,448.3 253.6,457.6M210.0,446.4Q218.9,448.7 227.4,452.4M210.0,446.4Q202.9,443.5 195.7,441.0M248.8,433.3Q251.3,441.0 254.8,448.3M248.8,433.3Q246.4,445.0 242.9,456.4M248.8,433.3Q249.7,445.7 253.6,457.6M248.8,433.3Q259.5,446.5 269.5,460.2M254.8,448.3Q262.2,454.2 269.5,460.2M227.4,452.4Q235.4,453.5 242.9,456.4M227.4,452.4Q212.1,445.1 195.7,441.0M242.9,456.4Q256.3,463.7 268.3,473.1M242.9,456.4Q242.9,467.7 245.7,478.6M242.9,456.4Q234.1,466.8 225.5,477.4M253.6,457.6Q247.2,461.8 241.0,466.2M253.6,457.6Q249.5,468.0 245.7,478.6M269.5,460.2Q269.4,466.7 268.3,473.1M241.0,466.2Q249.3,475.2 259.5,482.1M268.3,473.1Q256.6,474.2 245.7,478.6M268.3,473.1Q263.4,477.2 259.5,482.1M245.7,478.6Q252.5,480.6 259.5,482.1M245.7,478.6Q235.5,479.2 225.5,477.4M186.2,482.1Q190.2,498.5 196.4,514.3M225.5,477.4Q227.4,490.6 227.9,503.9M225.5,477.4Q217.4,491.8 211.9,507.3M168.3,495.7Q183.4,496.1 198.4,498.3M168.3,495.7Q182.2,505.2 196.4,514.3M213.6,494.3Q205.8,495.5 198.4,498.3M213.6,494.3Q213.4,500.9 211.9,507.3M213.6,494.3Q212.6,510.0 211.9,525.7M198.4,498.3Q189.2,506.4 178.3,512.0M198.4,498.3Q198.6,506.4 196.4,514.3M198.4,498.3Q206.2,511.5 211.9,525.7M227.9,503.9Q211.6,507.5 196.4,514.3M227.9,503.9Q224.2,510.0 222.4,516.8M211.9,507.3Q195.0,509.1 178.3,512.0M211.9,507.3Q212.5,516.5 211.9,525.7M196.4,514.3Q203.8,520.4 211.9,525.7M222.4,516.8Q216.8,520.9 211.9,525.7M194.0,343.9Q203.3,346.4 212.4,349.6M194.0,343.9Q190.4,349.0 187.2,354.3M194.0,343.9Q182.9,348.6 172.8,355.1M194.0,343.9Q198.4,351.4 200.4,359.8M194.0,343.9Q207.3,352.2 219.4,362.3M194.0,343.9Q184.6,357.5 175.1,370.9M194.0,343.9Q199.5,357.4 202.5,371.7M212.4,349.6Q199.9,352.3 187.2,354.3M212.4,349.6Q206.3,354.6 200.4,359.8M212.4,349.6Q216.6,355.6 219.4,362.3M212.4,349.6Q202.3,361.3 192.3,373.0M212.4,349.6Q208.2,361.0 202.5,371.7M187.2,354.3Q193.7,357.2 200.4,359.8M187.2,354.3Q195.3,362.6 202.5,371.7M172.8,355.1Q182.2,364.4 192.3,373.0M200.4,359.8Q210.1,359.6 219.4,362.3M200.4,359.8Q187.5,364.8 175.1,370.9M200.4,359.8Q197.1,366.9 192.3,373.0M200.4,359.8Q200.6,365.9 202.5,371.7M219.4,362.3Q210.8,366.7 202.5,371.7M175.1,370.9Q183.7,371.9 192.3,373.0M175.1,370.9Q188.8,371.0 202.5,371.7M192.3,373.0Q197.4,372.6 202.5,371.7M202.5,371.7Q214.6,377.9 227.3,382.9M253.6,457.6Q253.6,457.6 253.6,457.6M253.6,457.6Q247.0,461.4 241.0,466.2M253.6,457.6Q249.7,468.1 245.7,478.6M227.1,436.4Q218.8,421.4 207.6,408.3M227.1,436.4Q218.0,431.8 208.1,429.3M227.1,436.4Q232.5,434.8 237.4,432.1M227.1,436.4Q218.7,441.6 210.0,446.4M211.9,507.3Q212.6,500.8 213.6,494.3M211.9,507.3Q205.2,502.7 198.4,498.3M211.9,507.3Q220.1,506.6 227.9,503.9M211.9,507.3Q211.9,507.3 211.9,507.3M211.9,507.3Q195.1,509.6 178.3,512.0M211.9,507.3Q217.3,511.9 222.4,516.8M281.0,344.5Q276.4,354.5 274.5,365.4M281.0,344.5Q287.0,353.2 292.0,362.5M274.5,365.4Q283.0,362.7 292.0,362.5M274.5,365.4Q265.6,368.2 257.1,372.3M281.0,344.5Q263.8,354.8 248.2,367.5M292.0,362.5Q287.1,375.0 283.8,388.0M292.0,362.5Q290.9,381.5 290.5,400.5M257.1,372.3Q252.8,369.5 248.2,367.5M195.7,441.0Q189.4,449.9 182.1,457.9M182.1,457.9Q183.8,470.1 186.2,482.1M195.7,441.0Q201.1,434.3 208.1,429.3M195.7,441.0Q207.1,440.7 218.3,443.1M186.2,482.1Q182.4,497.1 178.3,512.0M186.2,482.1Q177.2,488.9 168.3,495.7M182.1,457.9Q175.5,476.9 168.3,495.7M225.5,477.4Q224.9,464.8 227.4,452.4M225.5,477.4Q219.0,485.5 213.6,494.3M225.5,477.4Q218.6,501.5 211.9,525.7M237.3,397.0Q227.5,380.1 219.4,362.3M208.4,397.3Q217.4,389.6 227.3,382.9M208.4,397.3Q222.8,396.8 237.3,397.0M227.3,382.9Q237.2,374.5 248.2,367.5M227.3,382.9Q229.4,377.2 233.0,372.3M219.4,362.3Q225.5,368.2 233.0,372.3M212.4,349.6Q224.0,349.1 235.0,345.4M219.4,362.3Q233.7,365.5 248.2,367.5M235.0,345.4Q240.5,357.1 248.2,367.5M235.0,345.4Q234.3,358.9 233.0,372.3M249.0,348.3Q247.7,357.9 248.2,367.5M249.0,348.3Q241.8,360.8 233.0,372.3M262.7,343.8Q254.7,355.2 248.2,367.5M262.7,343.8Q247.7,357.9 233.0,372.3" fill="none" stroke="#9c80cf" stroke-width="0.65" stroke-opacity="0.8"/>
<path d="M149.8,310.3Q146.1,304.6 141.9,299.3M149.8,310.3Q151.6,303.7 154.0,297.4M149.8,310.3Q157.0,306.6 164.0,302.4M149.8,310.3Q142.3,309.9 134.8,308.8M149.8,310.3Q149.8,310.1 149.8,310.0M149.8,310.3Q158.2,312.8 166.9,314.3M149.8,310.3Q143.5,315.6 136.7,320.2M149.8,310.3Q153.3,315.6 156.4,321.2M149.8,310.3Q147.9,319.2 145.5,327.9M149.8,310.3Q156.8,322.5 163.3,335.0M141.9,299.3Q149.6,309.9 156.4,321.2M134.8,308.8Q145.3,315.5 156.4,321.2M154.0,297.4Q149.3,312.5 145.5,327.9M164.0,302.4Q150.4,311.4 136.7,320.2M166.9,314.3Q156.3,321.3 145.5,327.9M136.7,320.2Q149.9,327.7 163.3,335.0M134.8,308.8Q151.0,311.0 166.9,314.3M156.4,321.2Q160.2,327.9 163.3,335.0M182.5,576.5Q178.2,568.7 173.1,561.4M182.5,576.5Q185.4,568.1 188.6,559.8M182.5,576.5Q191.1,571.7 199.8,566.9M182.5,576.5Q177.3,573.7 171.9,571.4M182.5,576.5Q184.5,574.7 186.2,572.6M182.5,576.5Q191.5,577.9 200.5,579.3M182.5,576.5Q176.5,580.3 170.2,583.6M182.5,576.5Q185.3,580.4 187.9,584.5M182.5,576.5Q180.6,584.6 179.5,592.9M182.5,576.5Q189.6,585.1 197.4,593.1M131.2,577.0Q132.1,568.2 133.6,559.5M131.2,577.0Q126.5,570.1 121.2,563.6M131.2,577.0Q138.3,571.5 145.5,566.2M131.2,577.0Q133.1,574.8 135.0,572.6M131.2,577.0Q123.0,576.1 114.8,574.5M131.2,577.0Q139.8,578.8 148.6,579.8M131.2,577.0Q129.4,578.9 127.9,581.0M131.2,577.0Q124.6,582.4 117.6,587.4M131.2,577.0Q136.2,583.5 141.4,589.8M131.2,577.0Q130.7,585.5 129.5,594.0M96.0,441.0Q90.7,434.2 84.8,427.9M96.0,441.0Q95.1,433.9 95.0,426.7M96.0,441.0Q99.6,434.5 103.8,428.3M96.0,441.0Q96.7,439.8 97.4,438.6M96.0,441.0Q92.8,443.2 89.5,445.2M96.0,441.0Q96.9,445.6 98.3,450.0M96.0,441.0Q89.5,447.0 83.6,453.6M96.0,441.0Q93.5,450.2 91.4,459.5M96.0,441.0Q100.6,450.0 104.3,459.3M96.0,441.0Q89.3,437.8 82.4,435.0M96.0,441.0Q104.3,437.5 112.1,433.1M96.0,441.0Q101.5,441.9 106.9,442.9M96.0,441.0Q107.7,442.2 119.3,444.5M96.0,441.0Q104.3,448.7 112.1,456.9M248.5,337.1Q248.4,331.2 248.6,325.3M248.5,337.1Q242.4,334.0 236.2,331.2M248.5,337.1Q254.6,333.4 261.0,330.2M248.5,337.1Q241.9,341.5 235.0,345.4M248.5,337.1Q248.9,342.7 249.0,348.3M248.5,337.1Q255.5,340.6 262.7,343.8M80.7,523.8Q85.4,514.1 89.5,504.0M80.7,523.8Q84.0,521.7 87.4,519.8M80.7,523.8Q90.0,524.2 99.3,524.3M80.7,523.8Q85.6,529.7 91.0,535.2M80.7,523.8Q80.8,533.1 81.2,542.4M80.7,523.8Q72.4,526.8 64.0,529.3M80.7,523.8Q74.9,520.4 69.3,516.7M80.7,523.8Q77.6,527.8 75.0,532.0M80.7,523.8Q75.3,525.3 70.0,527.0M80.7,523.8Q78.2,519.2 76.0,514.5M80.7,523.8Q76.3,527.3 72.0,531.0M332.0,418.0Q330.9,409.0 330.7,400.0M332.0,418.0Q338.3,410.9 343.8,403.1M332.0,418.0Q325.0,413.8 318.1,409.5M332.0,418.0Q330.4,416.2 328.8,414.5M332.0,418.0Q337.2,416.8 342.4,415.5M332.0,418.0Q323.6,420.2 315.0,421.4M332.0,418.0Q340.5,420.4 349.0,422.6M332.0,418.0Q329.9,421.7 327.6,425.2M332.0,418.0Q326.7,425.2 321.0,432.1M332.0,418.0Q335.8,424.4 340.0,430.5M340.2,469.0Q336.4,458.8 333.6,448.3M340.2,469.0Q333.0,465.7 326.0,462.1M340.2,469.0Q344.8,464.1 349.0,459.0M340.2,469.0Q347.9,468.2 355.7,467.9M340.2,469.0Q352.1,471.8 363.8,475.2M340.2,469.0Q334.7,474.1 329.3,479.3M340.2,469.0Q341.0,475.5 341.4,482.1M340.2,469.0Q347.3,476.5 355.0,483.3M340.2,469.0Q339.8,483.1 340.7,497.1M343.1,539.8Q341.4,531.8 340.6,523.8M343.1,539.8Q349.1,533.8 355.2,527.9M343.1,539.8Q336.5,537.8 329.8,536.2M343.1,539.8Q351.8,543.1 360.4,546.7M343.1,539.8Q337.4,545.0 332.3,550.8M343.1,539.8Q332.3,550.9 321.5,561.9M349.0,422.6Q351.9,428.6 354.3,434.8M355.0,483.3Q367.1,492.5 379.2,501.5M340.7,497.1Q340.5,510.4 340.6,523.8M333.6,448.3Q330.4,436.8 327.6,425.2M286.1,414.3Q300.5,418.1 315.0,421.4M187.2,354.3Q193.7,357.3 200.4,359.8M227.3,382.9Q236.8,392.5 246.2,402.0M233.0,372.3Q235.1,384.7 237.3,397.0M246.2,402.0Q261.0,404.4 275.9,405.9M218.3,443.1Q214.1,444.7 210.0,446.4M242.9,456.4Q251.2,469.3 259.5,482.1M198.4,498.3Q213.0,501.7 227.9,503.9M198.4,498.3Q205.3,502.5 211.9,507.3M187.2,354.3Q180.0,354.5 172.8,355.1M187.2,354.3Q190.1,363.5 192.3,373.0M172.8,355.1Q186.6,357.6 200.4,359.8M172.8,355.1Q174.2,363.0 175.1,370.9M219.4,362.3Q205.9,367.7 192.3,373.0M219.4,362.3Q223.0,372.7 227.3,382.9M253.6,457.6Q248.3,456.8 242.9,456.4M253.6,457.6Q261.5,459.2 269.5,460.2M253.6,457.6Q256.9,469.8 259.5,482.1M227.1,436.4Q229.8,426.9 232.6,417.4M227.1,436.4Q223.6,428.8 220.7,421.0M227.1,436.4Q227.1,436.4 227.1,436.4M227.1,436.4Q222.7,439.8 218.3,443.1M227.1,436.4Q231.8,438.5 236.2,441.2M211.9,507.3Q218.8,492.4 225.5,477.4M211.9,507.3Q190.2,501.2 168.3,495.7M211.9,507.3Q204.1,510.7 196.4,514.3M211.9,507.3Q211.5,516.5 211.9,525.7M207.6,408.3Q214.4,414.4 220.7,421.0M220.7,421.0Q224.2,428.6 227.1,436.4M227.1,436.4Q231.8,438.5 236.2,441.2M236.2,441.2Q244.9,449.4 253.6,457.6M253.6,457.6Q261.0,465.3 268.3,473.1M208.1,429.3Q217.6,432.8 227.1,436.4M232.6,417.4Q230.1,427.0 227.1,436.4M237.4,432.1Q245.2,445.1 253.6,457.6M253.0,388.4Q250.1,378.1 248.2,367.5M246.2,402.0Q240.1,386.9 233.0,372.3" fill="none" stroke="#6834a8" stroke-width="1.35" stroke-opacity="0.9"/>
<path d="M63.3,551.2 Q69.5,565 67.4,579.3" fill="none" stroke="#7a4fb8" stroke-width="0.9"/>
<path d="M221.5,557.5 C214,556 215,549 220.5,550.5 C224,551.5 224.5,555 223.6,557.2" fill="none" stroke="#9b79cc" stroke-width="0.8"/>
<path d="M243.4,557.5 C236,556 237,549 242.5,550.5 C246,551.5 246.5,555 245.6,557.2" fill="none" stroke="#9b79cc" stroke-width="0.8"/>
<g stroke="#4f8fb5" stroke-width="0.75"><circle cx="141.9" cy="299.3" r="3.2" fill="#b3de69"/><circle cx="154" cy="297.4" r="3.2" fill="#b3de69"/><circle cx="164" cy="302.4" r="3.2" fill="#b3de69"/><circle cx="134.8" cy="308.8" r="3.2" fill="#b3de69"/><circle cx="149.8" cy="310" r="3.2" fill="#b3de69"/><circle cx="166.9" cy="314.3" r="3.2" fill="#b3de69"/><circle cx="136.7" cy="320.2" r="3.2" fill="#b3de69"/><circle cx="156.4" cy="321.2" r="3.2" fill="#b3de69"/><circle cx="145.5" cy="327.9" r="3.2" fill="#b3de69"/><circle cx="163.3" cy="335" r="3.2" fill="#b3de69"/><circle cx="194" cy="343.9" r="3.2" fill="#d9d9d9"/><circle cx="212.4" cy="349.6" r="3.2" fill="#d9d9d9"/><circle cx="187.2" cy="354.3" r="2.5" fill="#d9d9d9"/><circle cx="172.8" cy="355.1" r="1.5" fill="#d9d9d9"/><circle cx="200.4" cy="359.8" r="2" fill="#d9d9d9"/><circle cx="219.4" cy="362.3" r="3.2" fill="#d9d9d9"/><circle cx="175.1" cy="370.9" r="2" fill="#d9d9d9"/><circle cx="192.3" cy="373" r="2" fill="#d9d9d9"/><circle cx="202.5" cy="371.7" r="2.3" fill="#d9d9d9"/><circle cx="227.3" cy="382.9" r="3.2" fill="#d9d9d9"/><circle cx="248.6" cy="325.3" r="2.4" fill="#bc80bd"/><circle cx="236.25" cy="331.2" r="2.0" fill="#bc80bd"/><circle cx="261" cy="330.2" r="2.6" fill="#bc80bd"/><circle cx="235" cy="345.4" r="2.8" fill="#bc80bd"/><circle cx="249" cy="348.3" r="2.5" fill="#bc80bd"/><circle cx="262.7" cy="343.75" r="2.6" fill="#bc80bd"/><circle cx="248.2" cy="367.5" r="3.2" fill="#bc80bd"/><circle cx="233" cy="372.3" r="3.2" fill="#bc80bd"/><circle cx="281" cy="344.5" r="3.2" fill="#fdb462"/><circle cx="274.5" cy="365.4" r="3.2" fill="#fdb462"/><circle cx="292" cy="362.5" r="3.2" fill="#fdb462"/><circle cx="257.1" cy="372.3" r="3.2" fill="#fdb462"/><circle cx="253" cy="388.4" r="3.2" fill="#4daf4a"/><circle cx="208.4" cy="397.3" r="3.2" fill="#4daf4a"/><circle cx="237.3" cy="397" r="3.2" fill="#4daf4a"/><circle cx="246.25" cy="402" r="3.2" fill="#4daf4a"/><circle cx="286.1" cy="414.3" r="3.2" fill="#4daf4a"/><circle cx="267.3" cy="391" r="3.2" fill="#ffffb3"/><circle cx="283.75" cy="388" r="3.2" fill="#ffffb3"/><circle cx="290.5" cy="400.5" r="3.2" fill="#ffffb3"/><circle cx="275.9" cy="405.9" r="3.2" fill="#ffffb3"/><circle cx="260.5" cy="410" r="3.2" fill="#ffffb3"/><circle cx="294.5" cy="411.6" r="3.2" fill="#ffffb3"/><circle cx="265.5" cy="423.2" r="3.2" fill="#ffffb3"/><circle cx="207.6" cy="408.3" r="3.2" fill="#fb8072"/><circle cx="232.6" cy="417.4" r="3.2" fill="#fb8072"/><circle cx="220.7" cy="421" r="1.8" fill="#fb8072"/><circle cx="208.1" cy="429.3" r="3.2" fill="#fb8072"/><circle cx="237.4" cy="432.1" r="3.2" fill="#fb8072"/><circle cx="227.1" cy="436.4" r="3.2" fill="#fb8072"/><circle cx="218.3" cy="443.1" r="3.2" fill="#fb8072"/><circle cx="236.2" cy="441.2" r="3.2" fill="#fb8072"/><circle cx="210" cy="446.4" r="1.8" fill="#fb8072"/><circle cx="248.8" cy="433.3" r="3.2" fill="#fccde5"/><circle cx="254.8" cy="448.3" r="3.2" fill="#fccde5"/><circle cx="227.4" cy="452.4" r="3.2" fill="#fccde5"/><circle cx="242.9" cy="456.4" r="3.2" fill="#fccde5"/><circle cx="253.6" cy="457.6" r="3.2" fill="#fccde5"/><circle cx="269.5" cy="460.2" r="3.2" fill="#fccde5"/><circle cx="241" cy="466.2" r="3.2" fill="#fccde5"/><circle cx="268.3" cy="473.1" r="3.2" fill="#fccde5"/><circle cx="245.7" cy="478.6" r="3.2" fill="#fccde5"/><circle cx="259.5" cy="482.1" r="3.2" fill="#fccde5"/><circle cx="195.7" cy="441" r="3.2" fill="#ccebc5"/><circle cx="182.1" cy="457.9" r="3.2" fill="#ccebc5"/><circle cx="186.2" cy="482.1" r="3.2" fill="#ccebc5"/><circle cx="225.5" cy="477.4" r="3.2" fill="#bebada"/><circle cx="168.3" cy="495.7" r="2" fill="#bebada"/><circle cx="213.6" cy="494.3" r="3.2" fill="#bebada"/><circle cx="198.4" cy="498.3" r="3.2" fill="#bebada"/><circle cx="227.9" cy="503.9" r="3.2" fill="#bebada"/><circle cx="211.9" cy="507.3" r="3.2" fill="#bebada"/><circle cx="178.3" cy="512" r="3.2" fill="#bebada"/><circle cx="196.4" cy="514.3" r="3.2" fill="#bebada"/><circle cx="222.4" cy="516.8" r="3.2" fill="#bebada"/><circle cx="211.9" cy="525.7" r="3.2" fill="#bebada"/><circle cx="173.1" cy="561.4" r="3.2" fill="#377eb8"/><circle cx="188.6" cy="559.8" r="3.2" fill="#377eb8"/><circle cx="199.8" cy="566.9" r="3.2" fill="#377eb8"/><circle cx="171.9" cy="571.4" r="3.2" fill="#377eb8"/><circle cx="186.2" cy="572.6" r="3.2" fill="#377eb8"/><circle cx="200.5" cy="579.3" r="3.2" fill="#377eb8"/><circle cx="170.2" cy="583.6" r="3.2" fill="#377eb8"/><circle cx="187.9" cy="584.5" r="3.2" fill="#377eb8"/><circle cx="179.5" cy="592.9" r="3.2" fill="#377eb8"/><circle cx="197.4" cy="593.1" r="3.2" fill="#377eb8"/><circle cx="133.6" cy="559.5" r="3.2" fill="#ff7f00"/><circle cx="121.2" cy="563.6" r="3.2" fill="#ff7f00"/><circle cx="145.5" cy="566.2" r="3.2" fill="#ff7f00"/><circle cx="135" cy="572.6" r="3.2" fill="#ff7f00"/><circle cx="114.8" cy="574.5" r="3.2" fill="#ff7f00"/><circle cx="148.6" cy="579.8" r="3.2" fill="#ff7f00"/><circle cx="127.9" cy="581" r="3.2" fill="#ff7f00"/><circle cx="117.6" cy="587.4" r="3.2" fill="#ff7f00"/><circle cx="141.4" cy="589.8" r="3.2" fill="#ff7f00"/><circle cx="129.5" cy="594" r="3.2" fill="#ff7f00"/><circle cx="89.5" cy="504" r="3.2" fill="#8dd3c7"/><circle cx="87.4" cy="519.8" r="3.2" fill="#8dd3c7"/><circle cx="99.3" cy="524.3" r="1.6" fill="#8dd3c7"/><circle cx="91" cy="535.2" r="3.2" fill="#8dd3c7"/><circle cx="81.2" cy="542.4" r="3.2" fill="#8dd3c7"/><circle cx="63.3" cy="551.2" r="3.2" fill="#8dd3c7"/><circle cx="52.6" cy="556.4" r="3.2" fill="#8dd3c7"/><circle cx="47.4" cy="570.2" r="3.2" fill="#8dd3c7"/><circle cx="63.3" cy="568.6" r="3.2" fill="#8dd3c7"/><circle cx="56.4" cy="574.3" r="2" fill="#8dd3c7"/><circle cx="84.8" cy="427.9" r="3.2" fill="#80b1d3"/><circle cx="95" cy="426.7" r="3.2" fill="#80b1d3"/><circle cx="103.8" cy="428.3" r="3.2" fill="#80b1d3"/><circle cx="97.4" cy="438.6" r="3.2" fill="#80b1d3"/><circle cx="89.5" cy="445.2" r="3.2" fill="#80b1d3"/><circle cx="98.3" cy="450" r="3.2" fill="#80b1d3"/><circle cx="83.6" cy="453.6" r="3.2" fill="#80b1d3"/><circle cx="91.4" cy="459.5" r="3.2" fill="#80b1d3"/><circle cx="104.3" cy="459.3" r="3.2" fill="#80b1d3"/><circle cx="82.4" cy="435" r="3.2" fill="#4daf4a"/><circle cx="112.1" cy="433.1" r="3.2" fill="#4daf4a"/><circle cx="106.9" cy="442.9" r="3.2" fill="#4daf4a"/><circle cx="119.3" cy="444.5" r="3.2" fill="#4daf4a"/><circle cx="112.1" cy="456.9" r="3.2" fill="#4daf4a"/><circle cx="63.3" cy="483.3" r="3.2" fill="#80b1d3"/><circle cx="330.7" cy="400" r="3.2" fill="#a65628"/><circle cx="343.8" cy="403.1" r="3.2" fill="#a65628"/><circle cx="318.1" cy="409.5" r="3.2" fill="#a65628"/><circle cx="328.8" cy="414.5" r="3.2" fill="#a65628"/><circle cx="342.4" cy="415.5" r="3.2" fill="#a65628"/><circle cx="315" cy="421.4" r="3.2" fill="#a65628"/><circle cx="349" cy="422.6" r="3.2" fill="#a65628"/><circle cx="327.6" cy="425.2" r="3.2" fill="#a65628"/><circle cx="321" cy="432.1" r="3.2" fill="#a65628"/><circle cx="340" cy="430.5" r="3.2" fill="#a65628"/><circle cx="354.3" cy="434.8" r="1.8" fill="#984ea3"/><circle cx="376" cy="441.9" r="3.2" fill="#984ea3"/><circle cx="361.7" cy="452.4" r="3.2" fill="#984ea3"/><circle cx="378.8" cy="459" r="3.2" fill="#984ea3"/><circle cx="333.6" cy="448.3" r="3.2" fill="#e41a1c"/><circle cx="326" cy="462.1" r="3.2" fill="#e41a1c"/><circle cx="349" cy="459" r="3.2" fill="#e41a1c"/><circle cx="340.2" cy="469" r="3.2" fill="#e41a1c"/><circle cx="355.7" cy="467.9" r="3.2" fill="#e41a1c"/><circle cx="363.8" cy="475.2" r="3.2" fill="#e41a1c"/><circle cx="329.3" cy="479.3" r="3.2" fill="#e41a1c"/><circle cx="341.4" cy="482.1" r="3.2" fill="#e41a1c"/><circle cx="355" cy="483.3" r="3.2" fill="#e41a1c"/><circle cx="340.7" cy="497.1" r="3.2" fill="#e41a1c"/><circle cx="388.5" cy="487.7" r="3.2" fill="#f781bf"/><circle cx="379.2" cy="501.5" r="3.2" fill="#f781bf"/><circle cx="398.5" cy="516.5" r="3.2" fill="#f781bf"/><circle cx="396.25" cy="540" r="3.2" fill="#f781bf"/><circle cx="340.6" cy="523.75" r="3.2" fill="#999999"/><circle cx="355.2" cy="527.9" r="3.2" fill="#999999"/><circle cx="329.8" cy="536.25" r="3.2" fill="#999999"/><circle cx="343.1" cy="539.8" r="3.2" fill="#999999"/><circle cx="360.4" cy="546.7" r="1.8" fill="#999999"/><circle cx="332.3" cy="550.8" r="3.2" fill="#999999"/><circle cx="350" cy="555" r="3.2" fill="#999999"/><circle cx="321.5" cy="561.9" r="3.2" fill="#999999"/><circle cx="339" cy="569.2" r="3.2" fill="#999999"/><circle cx="223.1" cy="559.8" r="3.2" fill="#ffff33"/><circle cx="245" cy="559.8" r="3.2" fill="#fb8072"/></g>
</g></svg>
</body></html>
